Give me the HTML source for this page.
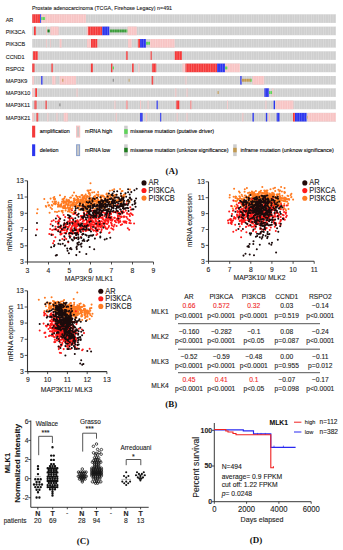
<!DOCTYPE html>
<html><head><meta charset="utf-8"><style>
html,body{margin:0;padding:0;background:#fff;width:343px;height:550px;overflow:hidden}
svg{display:block}
text{font-family:"Liberation Sans", sans-serif}
</style></head><body>
<svg width="343" height="550" viewBox="0 0 343 550">
<defs><pattern id="gp" patternUnits="userSpaceOnUse" width="2.1" height="10"><rect width="2.1" height="10" fill="#cfcfcf"/></pattern><pattern id="st" patternUnits="userSpaceOnUse" x="32.6" width="2.4" height="10"><rect width="0.6" height="10" fill="#fff" fill-opacity="0.3"/></pattern></defs>
<text stroke="#222" stroke-width="0.1" x="32.0" y="9.9" transform="matrix(1 0 0 1.12 0 -1.19)" font-size="5.37" fill="#222">Prostate adenocarcinoma (TCGA, Firehose Legacy) n=491</text>
<text stroke="#222" stroke-width="0.1" x="5.7" y="21.8" transform="matrix(1 0 0 1.12 0 -2.62)" font-size="5.5" fill="#222">AR</text>
<rect x="32.2" y="14.3" width="303.8" height="8.6" fill="url(#gp)"/>
<rect x="32.2" y="14.3" width="7.8" height="8.6" fill="#f43a3a"/>
<rect x="40" y="14.3" width="1.2" height="8.6" fill="#2b35ee"/>
<rect x="41.2" y="14.3" width="4.1" height="8.6" fill="#f7c4c4"/>
<rect x="41.2" y="17.1" width="4.1" height="2.9" fill="#5fd35a"/>
<rect x="45.3" y="14.3" width="40.7" height="8.6" fill="#f7c4c4"/>
<rect x="32.2" y="14.3" width="303.8" height="8.6" fill="url(#st)"/>
<text stroke="#222" stroke-width="0.1" x="5.7" y="34.1" transform="matrix(1 0 0 1.12 0 -4.09)" font-size="5.5" fill="#222">PIK3CA</text>
<rect x="32.2" y="26.6" width="303.8" height="8.6" fill="url(#gp)"/>
<rect x="34" y="26.6" width="2" height="8.6" fill="#f43a3a"/>
<rect x="46" y="26.6" width="1" height="8.6" fill="#f7c4c4"/>
<rect x="47.3" y="29.5" width="2.5" height="2.9" fill="#1e7d1e"/>
<rect x="50.4" y="26.6" width="8.2" height="8.6" fill="#f7c4c4"/>
<rect x="86.7" y="26.6" width="1.3" height="8.6" fill="#f7c4c4"/>
<rect x="88" y="26.6" width="14.1" height="8.6" fill="#f43a3a"/>
<rect x="102.1" y="26.6" width="7.2" height="8.6" fill="#2b35ee"/>
<rect x="109.8" y="29.5" width="17" height="2.9" fill="#3b9c3a"/>
<rect x="126.6" y="29.5" width="1" height="2.9" fill="#5fd35a"/>
<rect x="127.6" y="26.6" width="9.2" height="8.6" fill="#f7c4c4"/>
<rect x="32.2" y="26.6" width="303.8" height="8.6" fill="url(#st)"/>
<text stroke="#222" stroke-width="0.1" x="5.7" y="46.3" transform="matrix(1 0 0 1.12 0 -5.56)" font-size="5.5" fill="#222">PIK3CB</text>
<rect x="32.2" y="39" width="303.8" height="8.6" fill="url(#gp)"/>
<rect x="46.3" y="39" width="0.7" height="8.6" fill="#f7c4c4"/>
<rect x="50.4" y="39" width="0.6" height="8.6" fill="#f7c4c4"/>
<rect x="59.6" y="39" width="2" height="8.6" fill="#f7c4c4"/>
<rect x="87" y="39" width="4" height="8.6" fill="#f7c4c4"/>
<rect x="91" y="39" width="6.3" height="8.6" fill="#f43a3a"/>
<rect x="128" y="39" width="3.7" height="8.6" fill="#f7c4c4"/>
<rect x="137.9" y="39" width="2.1" height="8.6" fill="#f43a3a"/>
<rect x="140" y="39" width="6" height="8.6" fill="#2b35ee"/>
<rect x="146" y="41.8" width="4" height="2.9" fill="#5fd35a"/>
<rect x="150" y="39" width="24.7" height="8.6" fill="#f7c4c4"/>
<rect x="32.2" y="39" width="303.8" height="8.6" fill="url(#st)"/>
<text stroke="#222" stroke-width="0.1" x="5.7" y="58.6" transform="matrix(1 0 0 1.12 0 -7.03)" font-size="5.5" fill="#222">CCND1</text>
<rect x="32.2" y="51.3" width="303.8" height="8.6" fill="url(#gp)"/>
<rect x="33" y="51.3" width="4.8" height="8.6" fill="#f43a3a"/>
<rect x="126" y="51.3" width="1.6" height="8.6" fill="#f43a3a"/>
<rect x="150.5" y="51.3" width="1.2" height="8.6" fill="#f43a3a"/>
<rect x="174.7" y="51.3" width="7.3" height="8.6" fill="#f43a3a"/>
<rect x="32.2" y="51.3" width="303.8" height="8.6" fill="url(#st)"/>
<text stroke="#222" stroke-width="0.1" x="5.7" y="70.8" transform="matrix(1 0 0 1.12 0 -8.50)" font-size="5.5" fill="#222">RSPO2</text>
<rect x="32.2" y="63.6" width="303.8" height="8.6" fill="url(#gp)"/>
<rect x="32.2" y="63.6" width="2.3" height="8.6" fill="#f43a3a"/>
<rect x="51.4" y="63.6" width="1.5" height="8.6" fill="#f43a3a"/>
<rect x="90.8" y="63.6" width="2.1" height="8.6" fill="#f43a3a"/>
<rect x="111" y="63.6" width="1.5" height="8.6" fill="#f43a3a"/>
<rect x="112.5" y="66.5" width="1.5" height="2.9" fill="#5fd35a"/>
<rect x="132.1" y="63.6" width="1.7" height="8.6" fill="#f43a3a"/>
<rect x="138.3" y="63.6" width="1.2" height="8.6" fill="#f7c4c4"/>
<rect x="152.1" y="63.6" width="4.1" height="8.6" fill="#f43a3a"/>
<rect x="182.4" y="63.6" width="3.1" height="8.6" fill="#f7c4c4"/>
<rect x="185.5" y="63.6" width="31.5" height="8.6" fill="#f43a3a"/>
<rect x="217" y="63.6" width="8" height="8.6" fill="#2b35ee"/>
<rect x="225" y="63.6" width="15" height="8.6" fill="#f7c4c4"/>
<rect x="225" y="66.5" width="2.5" height="2.9" fill="#5fd35a"/>
<rect x="32.2" y="63.6" width="303.8" height="8.6" fill="url(#st)"/>
<text stroke="#222" stroke-width="0.1" x="5.7" y="83" transform="matrix(1 0 0 1.12 0 -9.96)" font-size="5.5" fill="#222">MAP3K9</text>
<rect x="32.2" y="76" width="303.8" height="8.6" fill="url(#gp)"/>
<rect x="32.2" y="76" width="1.8" height="8.6" fill="#f7c4c4"/>
<rect x="41.2" y="76" width="1.4" height="8.6" fill="#2b35ee"/>
<rect x="52" y="76" width="3.5" height="8.6" fill="#f7c4c4"/>
<rect x="59.6" y="76" width="16.4" height="8.6" fill="#f7c4c4"/>
<rect x="62.3" y="78.8" width="1" height="2.9" fill="#c29a50"/>
<rect x="112.7" y="78.8" width="1" height="2.9" fill="#7a7a7a"/>
<rect x="128.6" y="78.8" width="1" height="2.9" fill="#c29a50"/>
<rect x="151.7" y="76" width="1.5" height="8.6" fill="#f43a3a"/>
<rect x="185.5" y="76" width="1" height="8.6" fill="#f7c4c4"/>
<rect x="240.3" y="76" width="1.4" height="8.6" fill="#2b35ee"/>
<rect x="241.7" y="78.8" width="9.3" height="2.9" fill="#c29a50"/>
<rect x="250.5" y="78.8" width="1.5" height="2.9" fill="#5fd35a"/>
<rect x="252.5" y="76" width="11.7" height="8.6" fill="#f7c4c4"/>
<rect x="32.2" y="76" width="303.8" height="8.6" fill="url(#st)"/>
<text stroke="#222" stroke-width="0.1" x="5.7" y="95.3" transform="matrix(1 0 0 1.12 0 -11.44)" font-size="5.5" fill="#222">MAP3K10</text>
<rect x="32.2" y="88.3" width="303.8" height="8.6" fill="url(#gp)"/>
<rect x="32.2" y="88.3" width="1.8" height="8.6" fill="#f7c4c4"/>
<rect x="35" y="88.3" width="2" height="8.6" fill="#f43a3a"/>
<rect x="76.5" y="88.3" width="1" height="8.6" fill="#f7c4c4"/>
<rect x="175.3" y="88.3" width="1" height="8.6" fill="#f7c4c4"/>
<rect x="186.5" y="88.3" width="1" height="8.6" fill="#f7c4c4"/>
<rect x="217.5" y="91.1" width="1.2" height="2.9" fill="#c29a50"/>
<rect x="264.4" y="88.3" width="4.5" height="8.6" fill="#2b35ee"/>
<rect x="268.9" y="91.1" width="3.4" height="2.9" fill="#5fd35a"/>
<rect x="272.3" y="88.3" width="1" height="8.6" fill="#f7c4c4"/>
<rect x="32.2" y="88.3" width="303.8" height="8.6" fill="url(#st)"/>
<text stroke="#222" stroke-width="0.1" x="5.7" y="107.5" transform="matrix(1 0 0 1.12 0 -12.90)" font-size="5.5" fill="#222">MAP3K11</text>
<rect x="32.2" y="100.6" width="303.8" height="8.6" fill="url(#gp)"/>
<rect x="34.5" y="100.6" width="2" height="8.6" fill="#f43a3a"/>
<rect x="45.5" y="100.6" width="1.2" height="8.6" fill="#f43a3a"/>
<rect x="59.2" y="103.4" width="1.2" height="2.9" fill="#7a7a7a"/>
<rect x="114.4" y="100.6" width="1" height="8.6" fill="#f7c4c4"/>
<rect x="126" y="100.6" width="1.6" height="8.6" fill="#f29090"/>
<rect x="140" y="100.6" width="1" height="8.6" fill="#f7c4c4"/>
<rect x="147.6" y="100.6" width="1" height="8.6" fill="#f7c4c4"/>
<rect x="156.6" y="100.6" width="1.3" height="8.6" fill="#2b35ee"/>
<rect x="176.3" y="100.6" width="3.1" height="8.6" fill="#f43a3a"/>
<rect x="190.2" y="100.6" width="1.4" height="8.6" fill="#f29090"/>
<rect x="227" y="100.6" width="1" height="8.6" fill="#f7c4c4"/>
<rect x="265.4" y="100.6" width="1" height="8.6" fill="#f7c4c4"/>
<rect x="273.6" y="100.6" width="1.4" height="8.6" fill="#2b35ee"/>
<rect x="275.6" y="100.6" width="17.8" height="8.6" fill="#f7c4c4"/>
<rect x="32.2" y="100.6" width="303.8" height="8.6" fill="url(#st)"/>
<text stroke="#222" stroke-width="0.1" x="5.7" y="119.8" transform="matrix(1 0 0 1.12 0 -14.38)" font-size="5.5" fill="#222">MAP3K21</text>
<rect x="32.2" y="112.9" width="303.8" height="8.6" fill="url(#gp)"/>
<rect x="32.2" y="112.9" width="1.8" height="8.6" fill="#f7c4c4"/>
<rect x="36.5" y="112.9" width="1.7" height="8.6" fill="#f43a3a"/>
<rect x="47.3" y="112.9" width="1" height="8.6" fill="#f7c4c4"/>
<rect x="56.5" y="112.9" width="1" height="8.6" fill="#f7c4c4"/>
<rect x="63.7" y="112.9" width="4.1" height="8.6" fill="#f7c4c4"/>
<rect x="115.8" y="112.9" width="1" height="8.6" fill="#f7c4c4"/>
<rect x="140" y="112.9" width="2.6" height="8.6" fill="#2b35ee"/>
<rect x="146" y="112.9" width="1" height="8.6" fill="#f7c4c4"/>
<rect x="160" y="112.9" width="1.2" height="8.6" fill="#2b35ee"/>
<rect x="176.7" y="112.9" width="1" height="8.6" fill="#f7c4c4"/>
<rect x="186.5" y="112.9" width="1" height="8.6" fill="#f7c4c4"/>
<rect x="242.3" y="112.9" width="1" height="8.6" fill="#f7c4c4"/>
<rect x="252.5" y="112.9" width="1.5" height="8.6" fill="#2b35ee"/>
<rect x="265.8" y="112.9" width="1.4" height="8.6" fill="#2b35ee"/>
<rect x="268.9" y="112.9" width="1.1" height="8.6" fill="#f7c4c4"/>
<rect x="276.7" y="112.9" width="2.8" height="8.6" fill="#2b35ee"/>
<rect x="293" y="112.9" width="2" height="8.6" fill="#f43a3a"/>
<rect x="295" y="112.9" width="11.7" height="8.6" fill="#2b35ee"/>
<rect x="306.7" y="115.8" width="1" height="2.9" fill="#c29a50"/>
<rect x="307.7" y="112.9" width="28.3" height="8.6" fill="#f7c4c4"/>
<rect x="32.2" y="112.9" width="303.8" height="8.6" fill="url(#st)"/>
<rect x="32.1" y="125.7" width="3.1" height="11.8" fill="#f43a3a"/>
<text stroke="#000" stroke-width="0.1" x="39.7" y="133.3" transform="matrix(1 0 0 1.12 0 -16.00)" font-size="5.4" fill="#000">amplification</text>
<rect x="32.1" y="144.3" width="3.1" height="11.8" fill="#2b35ee"/>
<text stroke="#000" stroke-width="0.1" x="39.7" y="151.9" transform="matrix(1 0 0 1.12 0 -18.23)" font-size="5.4" fill="#000">deletion</text>
<rect x="76.6" y="126.2" width="3" height="10.8" fill="#c8c8c8" stroke="#f7c4c4" stroke-width="1.2"/>
<text stroke="#000" stroke-width="0.1" x="85" y="133.3" transform="matrix(1 0 0 1.12 0 -16.00)" font-size="5.4" fill="#000">mRNA high</text>
<rect x="76.6" y="144.8" width="3" height="10.8" fill="#c8c8c8" stroke="#8aa0cc" stroke-width="1"/>
<text stroke="#000" stroke-width="0.1" x="85" y="151.9" transform="matrix(1 0 0 1.12 0 -18.23)" font-size="5.4" fill="#000">mRNA low</text>
<rect x="124.2" y="125.7" width="3.5" height="11.8" fill="#cdcdcd"/>
<rect x="124.2" y="129.2" width="3.5" height="4.7" fill="#5fd35a"/>
<text stroke="#000" stroke-width="0.1" x="130.3" y="133.3" transform="matrix(1 0 0 1.12 0 -16.00)" font-size="5.4" fill="#000">missense mutation (putative driver)</text>
<rect x="124.2" y="144.3" width="3.5" height="11.8" fill="#cdcdcd"/>
<rect x="124.2" y="147.8" width="3.5" height="4.5" fill="#1e7d1e"/>
<text stroke="#000" stroke-width="0.1" x="130.3" y="151.9" transform="matrix(1 0 0 1.12 0 -18.23)" font-size="5.4" fill="#000">missense mutation (unknow significance)</text>
<rect x="233.2" y="144.3" width="3.5" height="11.8" fill="#cdcdcd"/>
<rect x="233.2" y="147.8" width="3.5" height="4.5" fill="#c29a50"/>
<text stroke="#000" stroke-width="0.1" x="240.4" y="151.9" transform="matrix(1 0 0 1.12 0 -18.23)" font-size="5.4" fill="#000">inframe mutation (unknow significance)</text>
<text x="171.7" y="173.6" style='font-family:"Liberation Serif", serif' font-weight="bold" font-size="9" text-anchor="middle" fill="#111">(A)</text>
<text x="171.3" y="406.6" style='font-family:"Liberation Serif", serif' font-weight="bold" font-size="9" text-anchor="middle" fill="#111">(B)</text>
<text x="83.1" y="543.6" style='font-family:"Liberation Serif", serif' font-weight="bold" font-size="9" text-anchor="middle" fill="#111">(C)</text>
<text x="256" y="543.2" style='font-family:"Liberation Serif", serif' font-weight="bold" font-size="9" text-anchor="middle" fill="#111">(D)</text>
<path d="M27.5 180.8V262H153.5" fill="none" stroke="#333" stroke-width="1.1"/>
<path d="M24.7 180.8H27.5" stroke="#222" stroke-width="0.8"/>
<text stroke="#222" stroke-width="0.1" x="23.9" y="183.2" transform="matrix(1 0 0 1.12 0 -21.98)" font-size="6.8" text-anchor="end" fill="#222">13</text>
<path d="M24.7 197H27.5" stroke="#222" stroke-width="0.8"/>
<text stroke="#222" stroke-width="0.1" x="23.9" y="199.4" transform="matrix(1 0 0 1.12 0 -23.93)" font-size="6.8" text-anchor="end" fill="#222">11</text>
<path d="M24.7 213.3H27.5" stroke="#222" stroke-width="0.8"/>
<text stroke="#222" stroke-width="0.1" x="23.9" y="215.7" transform="matrix(1 0 0 1.12 0 -25.88)" font-size="6.8" text-anchor="end" fill="#222">9</text>
<path d="M24.7 229.5H27.5" stroke="#222" stroke-width="0.8"/>
<text stroke="#222" stroke-width="0.1" x="23.9" y="231.9" transform="matrix(1 0 0 1.12 0 -27.83)" font-size="6.8" text-anchor="end" fill="#222">7</text>
<path d="M24.7 245.8H27.5" stroke="#222" stroke-width="0.8"/>
<text stroke="#222" stroke-width="0.1" x="23.9" y="248.2" transform="matrix(1 0 0 1.12 0 -29.78)" font-size="6.8" text-anchor="end" fill="#222">5</text>
<path d="M24.7 262H27.5" stroke="#222" stroke-width="0.8"/>
<text stroke="#222" stroke-width="0.1" x="23.9" y="264.4" transform="matrix(1 0 0 1.12 0 -31.73)" font-size="6.8" text-anchor="end" fill="#222">3</text>
<path d="M27.5 262V264.5" stroke="#222" stroke-width="0.8"/>
<text stroke="#222" stroke-width="0.1" x="27.5" y="272.9" transform="matrix(1 0 0 1.12 0 -32.75)" font-size="6.8" text-anchor="middle" fill="#222">3</text>
<path d="M48.5 262V264.5" stroke="#222" stroke-width="0.8"/>
<text stroke="#222" stroke-width="0.1" x="48.5" y="272.9" transform="matrix(1 0 0 1.12 0 -32.75)" font-size="6.8" text-anchor="middle" fill="#222">4</text>
<path d="M69.5 262V264.5" stroke="#222" stroke-width="0.8"/>
<text stroke="#222" stroke-width="0.1" x="69.5" y="272.9" transform="matrix(1 0 0 1.12 0 -32.75)" font-size="6.8" text-anchor="middle" fill="#222">5</text>
<path d="M90.5 262V264.5" stroke="#222" stroke-width="0.8"/>
<text stroke="#222" stroke-width="0.1" x="90.5" y="272.9" transform="matrix(1 0 0 1.12 0 -32.75)" font-size="6.8" text-anchor="middle" fill="#222">6</text>
<path d="M111.5 262V264.5" stroke="#222" stroke-width="0.8"/>
<text stroke="#222" stroke-width="0.1" x="111.5" y="272.9" transform="matrix(1 0 0 1.12 0 -32.75)" font-size="6.8" text-anchor="middle" fill="#222">7</text>
<path d="M132.5 262V264.5" stroke="#222" stroke-width="0.8"/>
<text stroke="#222" stroke-width="0.1" x="132.5" y="272.9" transform="matrix(1 0 0 1.12 0 -32.75)" font-size="6.8" text-anchor="middle" fill="#222">8</text>
<path d="M153.5 262V264.5" stroke="#222" stroke-width="0.8"/>
<text stroke="#222" stroke-width="0.1" x="153.5" y="272.9" transform="matrix(1 0 0 1.12 0 -32.75)" font-size="6.8" text-anchor="middle" fill="#222">9</text>
<text stroke="#222" stroke-width="0.1" x="89" y="281.3" transform="matrix(1 0 0 1.12 0 -33.76)" font-size="6.8" text-anchor="middle" fill="#222">MAP3K9/ MLK1</text>
<text stroke="#222" stroke-width="0.1" transform="translate(11.6,225.6) rotate(-90)" font-size="6.4" text-anchor="middle" fill="#222">mRNA expression</text>
<path d="M90.5 205.9h0M96.8 194.8h0M84.7 198.3h0M71.8 204.9h0M81.0 206.2h0M69.7 211.7h0M91.8 203.2h0M118.6 199.2h0M80.2 202.8h0M77.5 203.0h0M100.8 205.6h0M98.0 201.2h0M92.7 201.5h0M71.0 197.4h0M89.9 193.2h0M105.1 200.9h0M62.3 207.3h0M80.9 202.6h0M50.6 207.6h0M63.4 207.1h0M51.8 205.1h0M85.6 206.6h0M63.9 201.1h0M96.2 201.5h0M93.8 200.1h0M86.6 202.7h0M37.6 209.2h0M79.2 206.7h0M89.5 202.7h0M92.9 203.8h0M58.4 203.2h0M80.5 202.4h0M70.0 209.3h0M73.5 202.7h0M112.8 205.6h0M73.5 205.7h0M89.8 202.9h0M109.1 209.2h0M78.2 202.1h0M88.2 201.0h0M92.8 202.0h0M91.8 203.3h0M64.8 205.4h0M92.1 205.7h0M119.0 200.3h0M58.0 206.7h0M108.5 199.6h0M93.0 206.7h0M77.0 201.6h0M70.3 202.6h0M106.5 200.8h0M65.3 205.6h0M92.1 198.9h0M102.6 207.9h0M86.5 199.8h0M104.8 199.2h0M89.1 200.4h0M104.5 198.6h0M120.7 201.9h0M76.3 203.9h0M94.8 198.3h0M80.8 200.4h0M93.2 200.4h0M65.6 210.4h0M78.3 200.1h0M86.4 196.6h0M109.4 195.4h0M114.5 198.4h0M62.7 210.8h0M73.8 198.7h0M104.1 201.0h0M48.7 205.8h0M80.8 200.6h0M88.5 208.3h0M116.9 205.1h0M105.0 203.1h0M83.6 196.4h0M82.8 203.8h0M85.2 200.7h0M122.5 191.0h0M81.5 195.2h0M84.1 202.5h0M97.9 202.0h0M88.0 207.4h0M86.4 205.0h0M67.1 201.6h0M90.3 199.8h0M81.2 201.8h0M115.0 195.0h0M104.2 203.8h0M90.0 201.8h0M104.5 197.0h0M83.4 199.5h0M112.6 194.8h0M90.4 199.7h0M102.8 201.8h0M63.4 202.2h0M97.8 205.4h0M55.0 211.8h0M47.8 202.5h0M84.1 202.3h0M71.6 201.7h0M93.9 208.8h0M61.3 205.6h0M73.0 205.7h0M77.4 206.5h0M94.8 211.2h0M100.9 202.1h0M86.8 197.8h0M86.2 200.2h0M105.3 202.9h0M101.4 200.6h0M68.8 200.0h0M88.8 201.3h0M91.2 202.0h0M68.4 201.0h0M96.0 198.0h0M72.5 195.4h0M110.9 194.7h0M94.5 199.8h0M92.4 200.0h0M78.1 199.0h0M88.0 204.1h0M48.5 205.3h0M66.7 199.5h0M98.1 192.1h0M45.8 206.0h0M108.3 200.2h0M53.8 203.7h0M106.4 194.2h0M72.7 203.2h0M106.9 193.6h0M93.2 205.6h0M58.2 205.1h0M116.7 200.2h0M120.8 195.4h0M89.1 197.0h0M84.7 208.7h0M87.1 205.9h0M70.0 201.7h0M113.6 202.5h0M79.1 209.3h0M89.4 197.0h0M73.8 200.7h0M77.4 200.4h0M63.7 205.9h0M116.9 194.7h0M87.3 202.9h0M110.8 194.9h0M90.8 205.6h0M75.9 206.6h0M83.6 201.2h0M78.7 205.6h0M90.7 198.5h0M82.6 201.0h0M84.2 206.2h0M61.5 203.6h0M73.6 204.5h0M125.2 194.5h0M76.4 205.5h0M68.4 205.4h0M97.6 195.5h0M120.1 189.0h0M60.0 195.2h0M86.1 201.6h0M77.2 201.7h0M53.5 197.8h0M105.9 200.7h0M90.0 205.9h0M92.0 200.9h0M74.7 200.8h0M100.1 204.4h0M79.2 209.8h0M87.5 208.2h0M67.2 200.5h0M65.0 207.1h0M118.5 199.8h0M79.9 201.5h0M96.6 198.2h0M89.8 203.1h0M81.2 200.1h0M79.8 206.4h0M103.7 202.0h0M84.2 206.6h0M87.3 196.7h0M91.0 201.6h0M115.2 202.7h0M104.8 201.9h0M98.5 201.8h0M78.7 199.4h0M61.5 211.1h0M110.4 204.4h0M110.8 201.5h0M87.5 190.4h0M101.9 196.3h0M106.9 200.6h0M108.0 196.8h0M109.8 190.7h0M80.9 203.4h0M122.3 200.4h0M64.3 198.3h0M108.6 197.8h0M100.9 197.6h0M108.8 202.2h0M130.0 189.6h0M121.7 191.2h0M66.5 201.0h0M55.0 201.5h0M107.7 209.1h0M69.2 200.5h0M90.2 202.4h0M108.1 198.1h0M56.0 201.4h0M46.2 206.8h0M95.9 208.6h0M91.4 199.8h0M85.3 205.3h0M91.3 202.9h0M72.4 205.7h0M58.7 205.7h0M87.0 212.1h0M70.1 197.8h0M56.0 203.3h0M101.1 195.6h0M89.2 192.8h0M99.0 200.7h0M69.7 211.3h0M76.7 206.7h0M69.5 208.7h0M71.9 205.3h0M94.6 200.8h0M74.1 211.8h0M98.0 199.3h0M97.6 207.6h0M83.0 200.8h0M61.3 204.5h0M109.1 201.3h0M88.6 202.0h0M90.2 203.9h0M60.1 206.8h0M80.8 209.8h0M106.1 200.3h0M88.8 193.4h0M92.2 192.5h0M84.4 196.1h0M114.7 196.3h0M90.0 204.6h0M44.3 199.0h0M76.0 203.0h0M49.2 205.3h0M119.7 200.3h0M79.4 202.0h0M118.5 201.1h0M91.5 201.8h0M65.9 208.4h0M70.7 204.9h0M114.2 189.3h0M93.8 201.5h0M91.5 202.5h0M89.4 199.2h0M91.3 198.3h0M107.4 205.0h0M102.1 201.4h0M95.0 197.0h0M68.6 202.2h0M101.2 200.0h0M76.1 195.8h0M113.5 202.6h0M63.8 203.4h0M87.6 204.1h0M90.3 194.9h0M62.7 212.6h0M126.7 201.4h0M121.2 201.3h0M80.8 199.4h0M106.7 197.4h0M98.5 194.6h0M58.9 211.2h0M95.8 197.7h0M89.2 202.9h0M92.2 204.3h0M67.9 201.0h0M84.8 206.1h0M86.8 211.1h0M115.4 201.0h0M97.5 207.6h0M90.4 204.4h0M122.6 197.1h0M78.8 201.1h0M82.3 195.1h0M52.3 205.6h0M123.5 205.6h0M110.8 203.2h0M109.8 204.0h0M104.5 205.7h0M92.8 199.4h0M95.0 204.0h0M85.2 210.8h0M86.2 198.8h0M91.6 201.9h0M122.2 197.2h0M102.2 200.0h0M89.3 198.8h0M78.3 202.4h0M77.2 197.1h0M124.2 196.7h0M101.1 198.8h0M91.9 199.6h0M83.2 208.6h0M67.2 204.2h0M89.1 202.8h0M108.8 199.0h0M82.3 208.3h0M85.7 194.6h0M85.9 201.4h0M92.8 206.7h0M57.0 212.0h0M85.6 203.2h0M72.6 203.4h0M109.1 203.1h0M74.3 202.5h0M102.6 203.3h0M122.5 196.3h0M83.9 205.3h0M77.9 202.8h0M94.5 196.8h0M90.5 190.0h0M69.6 207.8h0M100.2 202.8h0M101.6 204.3h0M85.1 198.5h0M86.2 207.0h0M68.6 205.5h0M97.2 201.1h0M64.3 208.1h0M67.3 207.8h0M117.4 201.3h0M71.5 212.5h0M113.2 206.0h0M122.5 200.6h0M95.9 200.4h0M102.1 201.3h0M67.9 211.4h0M86.4 203.9h0M78.0 199.0h0M62.1 201.4h0M91.4 201.8h0M121.6 202.8h0M110.7 197.0h0M70.7 205.8h0M72.5 208.3h0M79.9 206.0h0M96.6 194.5h0M86.2 200.9h0M95.0 195.9h0M96.7 203.1h0M84.2 197.8h0M89.7 204.3h0M94.8 201.8h0M88.7 190.6h0M101.1 197.2h0M129.8 200.4h0M102.9 200.8h0M91.7 199.9h0M55.1 199.1h0M98.6 203.0h0M49.6 212.8h0M60.9 205.3h0M108.4 199.9h0M105.3 199.8h0M87.4 195.9h0M54.6 203.1h0M82.7 198.5h0M76.2 207.6h0M103.9 196.5h0M112.3 190.3h0M95.1 197.7h0M74.1 201.8h0M65.9 202.9h0M89.3 193.6h0M86.8 206.0h0M66.3 204.1h0M92.9 199.2h0M66.3 200.2h0M113.9 201.5h0M112.8 198.2h0M113.3 200.8h0M80.5 201.8h0M101.3 201.2h0M87.7 206.8h0M82.3 202.3h0M83.4 198.2h0M63.2 208.1h0M60.2 205.2h0M107.2 197.1h0M86.5 206.6h0M95.0 200.3h0M111.5 204.5h0M54.1 199.5h0M74.0 192.6h0M94.2 192.2h0M98.7 201.8h0M82.6 198.9h0M112.1 199.1h0M94.9 200.7h0M65.0 196.8h0M71.0 209.1h0M107.4 195.4h0M100.2 200.9h0M50.6 198.6h0M118.8 198.3h0M103.1 203.4h0M118.7 197.9h0M82.4 198.9h0M84.3 201.9h0M66.8 201.3h0M67.9 205.8h0M86.8 211.3h0M123.8 194.7h0M76.9 199.5h0M93.9 200.6h0M55.4 204.2h0M82.5 197.6h0M111.2 201.8h0M64.2 206.9h0M113.0 200.4h0M97.6 195.6h0M68.6 209.6h0M80.0 197.1h0M80.9 205.2h0M89.5 206.5h0M79.2 196.8h0M73.1 203.4h0M84.1 207.9h0M68.9 204.9h0M63.4 199.7h0M89.5 196.3h0M109.0 201.8h0M58.4 202.4h0M90.6 198.3h0M76.9 205.5h0M70.0 201.7h0M108.4 200.1h0M79.6 204.8h0M122.0 201.0h0M74.1 202.6h0M98.6 200.7h0M85.7 204.4h0M74.7 204.8h0M102.8 195.5h0M87.2 200.8h0M103.2 196.5h0M89.5 196.2h0M67.7 200.8h0M88.4 191.5h0M91.6 205.1h0M110.6 196.2h0M71.5 204.5h0M89.7 193.3h0M54.3 197.0h0M104.2 209.1h0M67.8 207.8h0M52.6 201.8h0M89.3 198.1h0M113.7 196.2h0M58.5 204.5h0M67.7 201.4h0M74.9 199.9h0M66.8 203.9h0M98.5 196.2h0M73.5 213.0h0M75.3 200.0h0M102.7 205.1h0M74.6 198.6h0M99.6 201.8h0M70.1 207.2h0M65.0 202.0h0M52.0 208.9h0M129.6 202.3h0M83.8 209.1h0M95.6 201.2h0M89.8 199.3h0M93.9 196.7h0M91.5 202.1h0M84.5 197.3h0M68.7 203.3h0M57.8 204.7h0M69.2 200.8h0M62.5 199.2h0M106.2 201.7h0M107.7 201.1h0M37.0 213.3h0M90.5 183.2h0" stroke="#ff7b22" stroke-width="2.05" stroke-linecap="round" fill="none"/>
<path d="M71.7 226.9h0M114.2 217.8h0M82.7 221.4h0M101.7 229.3h0M73.3 213.9h0M99.5 214.3h0M100.2 216.8h0M82.3 226.4h0M89.3 223.5h0M99.7 217.9h0M130.7 213.3h0M112.7 229.0h0M76.9 220.7h0M83.1 206.6h0M101.2 232.0h0M92.9 216.4h0M92.6 220.2h0M85.2 224.4h0M51.7 221.3h0M86.6 230.6h0M114.2 217.7h0M99.7 212.4h0M75.5 226.6h0M75.8 227.9h0M86.7 222.8h0M97.6 224.2h0M60.0 218.8h0M53.0 234.8h0M68.0 221.5h0M76.3 232.8h0M70.2 222.3h0M126.6 217.1h0M68.3 242.2h0M105.9 220.2h0M61.3 234.3h0M98.1 224.1h0M84.5 214.6h0M90.2 229.6h0M104.1 226.8h0M130.3 207.2h0M95.8 221.2h0M94.3 212.9h0M70.1 224.4h0M104.4 225.7h0M86.1 224.0h0M109.9 212.0h0M90.6 217.1h0M129.9 215.9h0M110.1 219.1h0M85.0 224.4h0M111.0 222.7h0M83.8 212.4h0M74.1 225.6h0M85.7 230.4h0M61.1 230.8h0M94.2 217.8h0M90.8 218.9h0M116.8 219.0h0M67.1 230.9h0M72.3 225.8h0M82.6 234.2h0M113.7 226.6h0M73.4 221.0h0M76.3 228.1h0M111.1 217.0h0M110.6 212.0h0M83.3 220.1h0M66.9 226.8h0M57.4 215.8h0M76.1 221.3h0M87.8 225.4h0M108.1 215.3h0M77.7 222.6h0M102.2 225.9h0M132.7 215.0h0M117.4 219.1h0M66.2 238.9h0M110.7 220.3h0M117.1 219.9h0M75.1 228.1h0M70.5 236.2h0M89.1 225.2h0M56.2 229.0h0M124.0 216.4h0M72.7 232.7h0M67.1 223.1h0M85.6 231.0h0M86.5 224.8h0M95.2 214.1h0M97.5 225.7h0M86.8 226.5h0M116.6 211.8h0M71.6 228.4h0M91.5 224.4h0M75.8 224.0h0M94.5 215.8h0M96.4 235.0h0M71.4 231.1h0M77.4 231.1h0M109.0 226.1h0M99.2 226.4h0M76.6 230.3h0M69.4 224.7h0M82.8 229.5h0M59.3 227.5h0M98.2 219.1h0M82.1 228.6h0M108.8 218.8h0M96.4 212.0h0M87.0 221.5h0M79.6 228.5h0M86.9 223.8h0M79.4 230.2h0M108.0 218.1h0M82.8 219.0h0M81.8 229.2h0M65.0 228.5h0M90.5 216.2h0M71.8 229.0h0M87.6 222.2h0M114.5 224.7h0M99.6 226.1h0M102.7 223.7h0M99.4 208.5h0M92.9 224.8h0M88.7 226.2h0M84.8 227.1h0M108.3 220.7h0M67.6 222.9h0M121.1 216.4h0M92.3 210.5h0M75.0 224.2h0M80.8 216.0h0M76.6 223.6h0M95.1 218.5h0M75.7 233.8h0M116.7 219.0h0M74.3 226.0h0M107.9 221.2h0M75.4 238.0h0M82.8 219.0h0M90.7 225.0h0M114.9 221.1h0M105.8 221.6h0M62.1 229.1h0M74.7 223.2h0M130.8 223.2h0M98.6 226.8h0M91.6 220.9h0M114.8 217.7h0M87.2 225.6h0M120.1 221.0h0M94.6 227.0h0M99.4 221.6h0M105.2 213.3h0M78.0 231.2h0M68.2 217.8h0M92.7 217.5h0M70.7 228.9h0M90.2 218.3h0M93.7 230.8h0M64.7 237.4h0M72.8 233.4h0M88.9 225.5h0M87.9 225.2h0M101.2 224.0h0M114.6 218.0h0M80.7 237.0h0M73.4 222.9h0M55.4 237.2h0M71.1 230.0h0M103.4 223.0h0M92.6 229.2h0M69.2 234.5h0M83.3 229.9h0M92.2 222.6h0M102.7 217.2h0M78.5 221.6h0M86.0 229.4h0M51.5 234.2h0M66.2 232.4h0M127.2 213.8h0M127.8 228.2h0M84.1 216.7h0M96.4 224.6h0M83.3 228.6h0M73.7 223.7h0M90.2 216.8h0M91.4 220.6h0M89.7 216.8h0M50.1 229.0h0M88.3 216.0h0M72.7 218.6h0M79.5 225.3h0M96.6 213.3h0M105.7 219.2h0M111.3 218.7h0M80.6 229.9h0M111.9 220.8h0M117.4 213.6h0M116.6 225.9h0M122.2 213.5h0M88.3 221.1h0M87.7 221.7h0M109.7 232.4h0M61.4 228.5h0M96.2 218.0h0M79.9 229.1h0M83.4 223.5h0M53.1 243.2h0M71.9 222.1h0M91.1 226.6h0M111.1 214.1h0M113.4 229.6h0M89.8 218.9h0M87.4 224.7h0M73.2 221.1h0M100.4 226.5h0M86.1 227.2h0M104.9 207.2h0M130.2 220.7h0M90.8 226.9h0M58.5 230.0h0M72.6 231.9h0M59.4 221.3h0M65.2 217.1h0M120.3 221.7h0M96.5 231.8h0M58.0 221.6h0M106.0 213.6h0M119.3 213.0h0M83.6 217.2h0M76.6 230.3h0M84.1 224.9h0M97.8 229.6h0M105.7 228.5h0M117.6 212.3h0M118.3 221.9h0M117.7 204.7h0M121.6 217.0h0M106.1 223.8h0M57.8 223.8h0M88.7 212.6h0M98.5 218.6h0M83.1 231.2h0M111.6 217.0h0M83.6 216.0h0M71.1 229.1h0M123.4 221.6h0M106.2 214.1h0M96.4 221.0h0M112.0 225.5h0M115.0 220.8h0M99.1 225.7h0M102.7 218.9h0M76.7 224.6h0M81.5 217.6h0M69.8 222.2h0M95.9 231.0h0M117.8 215.7h0M80.9 219.2h0M66.5 224.3h0M131.0 209.7h0M81.6 227.6h0M64.4 232.9h0M96.8 216.3h0M100.9 227.2h0M76.0 237.9h0M109.0 213.6h0M80.8 228.7h0M71.2 227.9h0M95.5 230.1h0M108.5 227.4h0M77.6 231.8h0M98.8 223.5h0M89.5 220.8h0M109.1 233.0h0M75.9 220.9h0M122.1 224.2h0M90.4 229.1h0M88.8 219.1h0M107.5 220.3h0M111.3 228.2h0M119.5 207.0h0M98.8 226.4h0M78.3 223.5h0M79.7 223.5h0M102.8 212.4h0M104.4 223.1h0M122.4 211.4h0M100.8 225.3h0M114.9 212.0h0M125.0 221.3h0M95.2 224.1h0M58.8 217.2h0M65.5 225.3h0M59.8 227.5h0M126.6 203.4h0M72.9 223.8h0M118.7 222.7h0M104.5 216.1h0M129.4 222.9h0M113.7 212.2h0M89.3 216.0h0M87.1 226.7h0M93.4 226.0h0M95.4 220.9h0M79.8 224.6h0M90.8 228.5h0M127.0 213.1h0M54.0 241.1h0M97.2 224.2h0M71.6 228.5h0M95.7 223.5h0M110.1 217.6h0M90.3 230.0h0M108.6 216.2h0M56.5 229.8h0M116.0 222.2h0M78.3 232.9h0M105.3 227.1h0M95.6 219.8h0M124.4 222.5h0M74.9 225.1h0M96.4 215.6h0M125.8 210.6h0M97.9 212.4h0M97.2 223.4h0M60.4 234.4h0M123.1 211.2h0M131.4 213.9h0M92.2 215.9h0M86.7 223.4h0M55.8 221.8h0M111.0 214.3h0M86.1 219.4h0M107.4 216.9h0M119.4 215.4h0M103.5 219.2h0M69.8 225.1h0M121.0 211.7h0M64.3 230.3h0M86.9 213.3h0M97.7 222.2h0M111.0 213.5h0M100.7 221.5h0M100.1 222.6h0M74.8 213.7h0M63.1 229.4h0M92.9 229.8h0M75.9 229.5h0M62.7 229.5h0M63.6 214.9h0M80.7 223.3h0M50.7 224.3h0M61.8 233.6h0M55.5 226.8h0M95.6 218.0h0M100.5 210.5h0M107.4 223.9h0M58.5 224.8h0M76.6 223.5h0M111.7 225.1h0M86.8 223.6h0M84.3 225.4h0M129.2 229.7h0M84.1 220.4h0M66.1 223.9h0M62.5 230.2h0M99.0 229.2h0M98.3 212.8h0M61.3 226.3h0M69.8 220.5h0M103.3 212.3h0M104.3 223.4h0M77.4 220.3h0M105.3 221.6h0M104.2 220.8h0M52.2 230.0h0M84.7 223.8h0M100.7 214.5h0M78.9 224.1h0M77.6 225.9h0M85.3 225.3h0M108.1 217.7h0M126.4 221.8h0M64.6 230.3h0M117.5 218.4h0M66.7 230.3h0M112.7 219.6h0M118.8 221.5h0M113.2 207.1h0M94.8 214.3h0M65.9 224.4h0M105.4 220.5h0M75.8 212.6h0M129.0 214.2h0M100.8 221.5h0M107.2 218.1h0M131.6 213.9h0M71.4 217.9h0M123.9 217.1h0M126.6 204.2h0M125.8 221.8h0M91.1 218.6h0M65.0 233.1h0M87.6 212.7h0M108.4 221.6h0M54.0 229.5h0M93.6 216.9h0M69.7 219.1h0M87.9 229.7h0M89.1 225.1h0M134.1 223.4h0M120.2 216.8h0M90.6 223.4h0M118.2 220.0h0M74.4 229.6h0M84.1 226.2h0M111.6 223.5h0M64.2 224.3h0M85.4 214.8h0M62.4 239.0h0M94.1 222.8h0M127.5 218.8h0M75.0 222.6h0M96.5 227.3h0M71.8 226.9h0M66.2 233.1h0M64.3 223.3h0M123.6 216.5h0M119.8 218.7h0M102.2 218.6h0M75.8 226.8h0M107.1 229.0h0M84.2 220.4h0M109.2 217.9h0M98.0 222.4h0M97.7 215.8h0M104.9 213.2h0M78.8 231.2h0M82.6 228.7h0M53.6 220.2h0M81.8 216.0h0M60.2 232.4h0M88.4 230.1h0M70.4 230.0h0M93.8 225.1h0M101.5 230.1h0M60.2 227.9h0M73.6 233.2h0M70.7 233.3h0M108.0 214.4h0M129.2 220.1h0M110.3 219.8h0M83.8 220.3h0M123.9 212.2h0M58.2 230.4h0M124.6 216.6h0M77.1 230.0h0M76.8 215.0h0M100.8 217.2h0M126.3 223.0h0M68.8 226.6h0M95.3 217.8h0M86.8 220.6h0M93.8 211.5h0M58.8 220.3h0M76.5 228.4h0M101.9 221.3h0M96.5 229.3h0M118.0 216.6h0M93.3 221.4h0M72.0 210.2h0M75.8 224.8h0M97.3 233.9h0M49.3 233.9h0M63.9 226.8h0M120.8 224.9h0M70.8 231.3h0M103.3 222.7h0M90.2 220.9h0M68.5 227.6h0M83.9 229.2h0M80.2 220.0h0M80.8 227.6h0M108.2 222.6h0M105.9 228.2h0M78.8 229.4h0M71.5 222.3h0M97.8 231.0h0M37.0 229.5h0" stroke="#ff1a1a" stroke-width="2.05" stroke-linecap="round" fill="none"/>
<path d="M91.7 235.5h0M60.1 226.8h0M93.1 217.5h0M96.5 210.9h0M75.3 218.2h0M113.7 203.1h0M92.9 204.9h0M90.6 217.6h0M116.6 210.5h0M96.2 223.6h0M101.4 207.2h0M106.2 200.3h0M61.9 229.3h0M82.9 204.6h0M100.3 215.9h0M134.4 190.2h0M82.2 229.4h0M100.0 208.1h0M136.7 188.7h0M106.6 215.1h0M97.9 205.9h0M121.6 200.2h0M100.4 232.6h0M92.5 208.0h0M78.4 224.3h0M89.6 214.2h0M128.1 189.3h0M109.7 199.0h0M116.4 194.8h0M124.1 200.7h0M112.9 199.4h0M78.2 234.8h0M120.6 199.6h0M113.6 208.3h0M118.7 207.6h0M105.2 199.8h0M103.2 204.2h0M69.9 233.0h0M109.7 206.4h0M71.4 233.2h0M102.5 205.7h0M82.9 209.7h0M69.3 217.6h0M114.1 200.7h0M93.9 212.0h0M70.4 216.3h0M109.6 204.4h0M93.3 213.9h0M123.9 203.4h0M100.5 197.2h0M87.4 215.5h0M64.3 236.3h0M90.4 214.6h0M102.4 211.4h0M52.7 225.8h0M92.4 200.2h0M134.6 201.6h0M124.8 204.7h0M90.8 221.2h0M92.5 215.4h0M99.2 221.0h0M106.7 238.7h0M109.0 211.3h0M106.8 209.9h0M82.5 205.7h0M122.3 204.6h0M128.1 199.7h0M124.3 208.4h0M96.0 213.1h0M83.4 228.9h0M106.3 209.8h0M125.4 208.6h0M91.5 215.5h0M86.2 219.4h0M130.2 198.4h0M60.4 244.2h0M89.3 210.3h0M119.0 201.5h0M90.8 210.7h0M109.9 213.2h0M105.5 200.6h0M81.3 238.0h0M100.3 237.5h0M113.4 203.8h0M88.4 240.0h0M122.5 212.8h0M101.2 205.1h0M107.2 213.2h0M88.6 211.5h0M98.5 213.5h0M83.8 226.7h0M96.2 217.3h0M102.5 200.8h0M120.9 193.6h0M104.2 210.2h0M120.4 206.3h0M68.9 253.3h0M105.0 200.6h0M54.0 246.3h0M111.2 209.6h0M105.8 210.0h0M75.9 233.6h0M98.7 213.0h0M89.5 198.4h0M81.3 237.5h0M92.3 235.7h0M86.1 208.7h0M104.9 208.0h0M55.4 229.3h0M72.6 230.3h0M69.1 215.5h0M77.9 207.9h0M95.9 216.5h0M93.2 207.0h0M115.4 203.3h0M110.7 211.1h0M115.4 212.2h0M80.0 203.5h0M82.1 225.7h0M104.4 200.4h0M103.1 201.7h0M120.6 200.8h0M85.8 217.6h0M63.6 227.8h0M79.3 225.5h0M62.8 243.8h0M110.7 198.9h0M67.4 224.0h0M80.1 226.1h0M60.2 218.8h0M74.9 233.2h0M90.5 208.5h0M99.1 212.1h0M58.2 231.3h0M136.1 198.5h0M55.9 218.5h0M80.8 224.4h0M80.3 231.2h0M65.9 233.4h0M74.4 228.2h0M95.6 211.6h0M93.1 198.2h0M59.8 240.3h0M87.8 217.4h0M132.2 209.2h0M107.7 199.7h0M104.0 223.7h0M58.6 223.0h0M75.2 206.4h0M73.0 230.9h0M83.3 208.7h0M104.7 239.5h0M134.7 203.9h0M99.0 202.7h0M123.6 201.9h0M63.7 224.9h0M111.4 203.4h0M85.5 234.7h0M132.4 204.8h0M99.3 204.7h0M122.0 206.3h0M101.1 212.2h0M107.4 206.6h0M92.8 213.1h0M119.0 206.6h0M83.4 234.0h0M78.3 239.2h0M117.0 207.5h0M104.1 207.7h0M96.5 210.1h0M76.8 249.1h0M78.3 237.3h0M72.4 233.7h0M105.7 205.6h0M106.6 201.7h0M86.7 235.4h0M120.8 209.8h0M68.2 241.5h0M134.9 200.8h0M84.2 216.1h0M89.1 235.7h0M77.6 244.0h0M113.8 206.3h0M108.2 204.8h0M64.7 223.4h0M102.4 215.0h0M97.0 197.7h0M78.9 242.3h0M94.2 249.2h0M83.1 233.8h0M74.8 230.3h0M69.7 223.2h0M87.6 206.3h0M98.9 202.1h0M96.2 215.2h0M100.6 203.0h0M99.3 208.6h0M89.7 246.9h0M116.9 202.0h0M60.3 232.0h0M123.9 208.9h0M97.1 230.2h0M117.5 197.5h0M113.5 205.4h0M81.4 246.6h0M101.2 200.2h0M87.0 208.5h0M91.1 203.6h0M78.5 216.8h0M72.5 223.6h0M120.4 213.9h0M79.6 205.2h0M82.0 217.0h0M88.7 207.0h0M114.8 201.2h0M110.4 217.8h0M51.5 234.9h0M101.1 213.6h0M96.6 214.2h0M100.5 202.6h0M99.5 210.1h0M65.2 245.4h0M97.1 204.7h0M82.3 208.6h0M131.5 199.6h0M91.0 231.4h0M94.4 211.8h0M99.8 202.1h0M94.9 238.6h0M101.8 208.0h0M115.4 197.4h0M105.3 214.7h0M81.5 243.6h0M64.3 240.0h0M106.8 200.6h0M90.5 207.3h0M83.4 210.2h0M77.5 243.0h0M83.9 216.8h0M64.5 223.4h0M97.7 212.6h0M84.3 215.0h0M94.8 198.9h0M70.7 248.1h0M86.2 226.9h0M102.7 210.5h0M123.4 206.2h0M74.1 237.3h0M76.4 238.1h0M58.1 227.0h0M94.1 206.0h0M73.2 219.8h0M96.4 212.2h0M110.5 211.6h0M82.3 234.6h0M122.9 208.2h0M78.7 238.3h0M129.1 201.6h0M107.6 196.4h0M123.4 198.4h0M98.1 212.6h0M94.3 204.9h0M96.1 206.3h0M113.0 200.3h0M70.0 237.7h0M126.2 196.7h0M74.2 238.8h0M106.7 212.1h0M123.8 208.0h0M76.8 246.4h0M121.6 203.6h0M54.5 244.9h0M88.7 237.2h0M99.6 224.2h0M103.3 227.6h0M84.9 206.7h0M95.4 213.2h0M80.9 232.0h0M109.5 215.0h0M75.3 210.4h0M70.0 248.8h0M103.0 202.2h0M65.4 227.1h0M116.1 208.8h0M84.4 240.9h0M122.0 198.3h0M108.9 204.1h0M88.2 202.8h0M89.9 211.6h0M108.9 193.6h0M100.8 206.2h0M100.8 204.2h0M112.6 211.5h0M125.5 204.4h0M118.2 203.4h0M77.0 233.4h0M84.8 226.1h0M100.2 202.9h0M81.1 209.1h0M112.5 203.2h0M79.6 251.9h0M84.1 213.4h0M94.4 204.3h0M89.0 213.0h0M88.4 206.2h0M102.2 206.6h0M111.3 198.2h0M67.1 222.5h0M135.4 203.1h0M120.0 199.4h0M94.0 215.4h0M101.0 207.0h0M94.7 210.4h0M78.6 213.8h0M76.0 230.0h0M94.8 215.8h0M106.3 206.7h0M87.1 209.2h0M98.1 209.8h0M90.2 210.1h0M69.1 233.2h0M98.9 217.1h0M93.1 213.3h0M120.2 209.3h0M75.4 221.4h0M93.0 227.0h0M110.4 204.4h0M86.8 215.0h0M112.8 195.7h0M94.6 216.4h0M106.7 201.3h0M116.5 197.3h0M87.8 225.2h0M78.1 244.8h0M107.6 202.2h0M118.3 218.5h0M64.4 220.2h0M121.3 196.3h0M97.1 208.6h0M99.8 205.9h0M118.7 197.6h0M103.7 204.4h0M110.3 237.7h0M111.4 206.3h0M82.6 240.8h0M128.5 210.9h0M67.9 214.9h0M107.6 202.4h0M71.5 249.3h0M105.1 203.6h0M64.8 245.8h0M82.9 208.9h0M101.3 200.7h0M94.9 206.1h0M106.4 204.4h0M96.4 217.2h0M99.9 214.4h0M107.7 205.1h0M103.2 206.0h0M93.7 216.2h0M128.3 203.4h0M67.6 229.0h0M117.2 191.2h0M72.9 240.4h0M112.5 207.7h0M114.0 191.6h0M106.9 201.3h0M92.6 205.7h0M93.2 235.0h0M107.9 200.0h0M125.5 193.3h0M129.7 194.5h0M105.8 206.5h0M77.2 232.9h0M109.2 201.9h0M127.3 200.8h0M123.5 197.4h0M83.0 217.3h0M90.7 235.4h0M112.6 193.5h0M109.5 211.6h0M117.9 211.3h0M135.6 206.8h0M123.0 204.8h0M86.9 225.8h0M128.1 208.3h0M114.5 197.7h0M51.2 247.2h0M86.5 228.2h0M99.3 207.5h0M115.4 205.5h0M58.4 243.7h0M67.6 250.7h0M111.8 201.6h0M101.3 210.4h0M119.4 199.0h0M60.8 225.4h0M119.0 213.7h0M88.8 206.0h0M129.7 197.8h0M71.8 239.5h0M89.6 201.4h0M87.4 211.7h0M99.5 215.5h0M115.0 200.2h0M96.0 210.5h0M111.6 194.9h0M102.5 203.7h0M95.5 228.2h0M105.0 206.8h0M94.1 215.8h0M77.6 214.8h0M88.7 213.8h0M100.8 215.2h0M80.2 244.5h0M126.0 207.9h0M102.4 203.7h0M101.8 200.3h0M103.3 209.9h0M116.1 206.3h0M67.2 248.4h0M121.2 204.7h0M81.9 223.4h0M89.5 222.0h0M77.4 243.7h0M92.5 201.4h0M128.1 192.3h0M76.5 247.5h0M72.0 239.7h0M76.3 255.1h0M108.0 209.6h0M87.2 240.9h0M86.7 202.0h0M72.1 233.7h0M80.5 209.4h0M130.0 197.6h0M83.0 218.1h0M117.8 206.0h0M120.2 205.3h0M75.0 233.0h0M85.9 229.8h0M101.6 207.5h0M111.9 207.6h0M109.0 209.0h0M93.2 212.6h0M109.0 217.2h0M93.6 210.9h0M114.7 201.9h0M133.4 209.3h0M123.3 199.2h0M98.7 202.1h0M83.8 239.6h0M106.2 217.1h0M104.0 206.4h0M95.8 206.5h0M93.9 211.8h0M82.3 209.8h0M72.3 223.1h0M120.3 204.1h0M83.5 206.2h0M93.6 217.5h0M131.3 192.1h0M84.4 229.4h0M82.0 223.8h0M105.3 198.7h0M89.5 230.1h0M108.0 211.4h0M106.4 213.4h0M112.6 202.1h0M127.5 207.7h0M113.4 210.7h0M75.1 213.1h0M121.8 211.7h0M111.3 198.6h0M117.0 207.8h0M90.4 206.0h0M76.1 235.2h0M69.5 236.3h0M127.7 204.9h0M101.5 206.3h0M100.5 209.8h0M75.4 230.1h0M88.5 229.2h0M89.6 201.9h0M125.8 204.6h0M100.3 236.5h0M90.9 211.3h0M85.5 207.4h0M83.4 206.0h0M79.8 229.8h0M75.8 208.5h0M37.0 223.0h0M35.9 235.2h0M55.8 255.5h0M56.9 255.1h0M86.3 253.9h0" stroke="#1b0b0b" stroke-width="2.05" stroke-linecap="round" fill="none"/>
<circle cx="144" cy="182.9" r="2.55" fill="#220a0a"/>
<text stroke="#222" stroke-width="0.1" x="148.5" y="185.5" transform="matrix(1 0 0 1.12 0 -22.26)" font-size="7.4" fill="#222">AR</text>
<circle cx="144" cy="190.5" r="2.55" fill="#ff1a1a"/>
<text stroke="#222" stroke-width="0.1" x="148.5" y="193.1" transform="matrix(1 0 0 1.12 0 -23.17)" font-size="7.4" fill="#222">PI3KCA</text>
<circle cx="144" cy="198.1" r="2.55" fill="#ff7b22"/>
<text stroke="#222" stroke-width="0.1" x="148.5" y="200.7" transform="matrix(1 0 0 1.12 0 -24.08)" font-size="7.4" fill="#222">PI3KCB</text>
<path d="M208.5 181.8V261.3H314.2" fill="none" stroke="#333" stroke-width="1.1"/>
<path d="M205.7 181.8H208.5" stroke="#222" stroke-width="0.8"/>
<text stroke="#222" stroke-width="0.1" x="204.9" y="184.2" transform="matrix(1 0 0 1.12 0 -22.10)" font-size="6.8" text-anchor="end" fill="#222">13</text>
<path d="M205.7 197.7H208.5" stroke="#222" stroke-width="0.8"/>
<text stroke="#222" stroke-width="0.1" x="204.9" y="200.1" transform="matrix(1 0 0 1.12 0 -24.01)" font-size="6.8" text-anchor="end" fill="#222">11</text>
<path d="M205.7 213.6H208.5" stroke="#222" stroke-width="0.8"/>
<text stroke="#222" stroke-width="0.1" x="204.9" y="216" transform="matrix(1 0 0 1.12 0 -25.92)" font-size="6.8" text-anchor="end" fill="#222">9</text>
<path d="M205.7 229.5H208.5" stroke="#222" stroke-width="0.8"/>
<text stroke="#222" stroke-width="0.1" x="204.9" y="231.9" transform="matrix(1 0 0 1.12 0 -27.83)" font-size="6.8" text-anchor="end" fill="#222">7</text>
<path d="M205.7 245.4H208.5" stroke="#222" stroke-width="0.8"/>
<text stroke="#222" stroke-width="0.1" x="204.9" y="247.8" transform="matrix(1 0 0 1.12 0 -29.74)" font-size="6.8" text-anchor="end" fill="#222">5</text>
<path d="M205.7 261.3H208.5" stroke="#222" stroke-width="0.8"/>
<text stroke="#222" stroke-width="0.1" x="204.9" y="263.7" transform="matrix(1 0 0 1.12 0 -31.64)" font-size="6.8" text-anchor="end" fill="#222">3</text>
<path d="M208.5 261.3V263.8" stroke="#222" stroke-width="0.8"/>
<text stroke="#222" stroke-width="0.1" x="208.5" y="272.2" transform="matrix(1 0 0 1.12 0 -32.66)" font-size="6.8" text-anchor="middle" fill="#222">6</text>
<path d="M229.7 261.3V263.8" stroke="#222" stroke-width="0.8"/>
<text stroke="#222" stroke-width="0.1" x="229.7" y="272.2" transform="matrix(1 0 0 1.12 0 -32.66)" font-size="6.8" text-anchor="middle" fill="#222">7</text>
<path d="M250.8 261.3V263.8" stroke="#222" stroke-width="0.8"/>
<text stroke="#222" stroke-width="0.1" x="250.8" y="272.2" transform="matrix(1 0 0 1.12 0 -32.66)" font-size="6.8" text-anchor="middle" fill="#222">8</text>
<path d="M271.9 261.3V263.8" stroke="#222" stroke-width="0.8"/>
<text stroke="#222" stroke-width="0.1" x="271.9" y="272.2" transform="matrix(1 0 0 1.12 0 -32.66)" font-size="6.8" text-anchor="middle" fill="#222">9</text>
<path d="M293.1 261.3V263.8" stroke="#222" stroke-width="0.8"/>
<text stroke="#222" stroke-width="0.1" x="293.1" y="272.2" transform="matrix(1 0 0 1.12 0 -32.66)" font-size="6.8" text-anchor="middle" fill="#222">10</text>
<path d="M314.2 261.3V263.8" stroke="#222" stroke-width="0.8"/>
<text stroke="#222" stroke-width="0.1" x="314.2" y="272.2" transform="matrix(1 0 0 1.12 0 -32.66)" font-size="6.8" text-anchor="middle" fill="#222">11</text>
<text stroke="#222" stroke-width="0.1" x="259.6" y="280.1" transform="matrix(1 0 0 1.12 0 -33.61)" font-size="6.8" text-anchor="middle" fill="#222">MAP3K10/ MLK2</text>
<text stroke="#222" stroke-width="0.1" transform="translate(192.4,220.2) rotate(-90)" font-size="6.75" text-anchor="middle" fill="#222">mRNA expression</text>
<path d="M269.9 193.9h0M281.0 200.2h0M252.3 198.2h0M263.9 193.8h0M273.6 193.3h0M265.7 201.7h0M248.0 193.0h0M270.2 197.5h0M266.0 199.3h0M270.7 197.2h0M280.1 206.1h0M278.5 203.0h0M270.2 199.8h0M268.8 196.4h0M249.4 201.1h0M262.7 199.9h0M267.6 194.7h0M259.0 192.6h0M265.9 195.6h0M253.2 193.2h0M285.6 201.2h0M274.0 200.8h0M259.2 197.8h0M270.1 200.7h0M261.3 201.7h0M281.9 191.4h0M270.5 200.2h0M265.6 203.9h0M261.5 197.0h0M266.3 190.5h0M250.8 198.9h0M273.8 193.4h0M254.7 201.4h0M271.9 201.6h0M266.3 202.6h0M279.6 200.0h0M264.3 190.5h0M278.6 204.8h0M251.9 191.5h0M272.9 204.1h0M261.5 200.4h0M267.2 195.3h0M265.5 196.3h0M277.4 197.9h0M236.8 207.2h0M269.0 197.6h0M244.0 204.2h0M281.1 187.0h0M237.4 200.3h0M250.7 198.4h0M241.5 204.8h0M287.1 201.6h0M246.8 205.4h0M266.1 194.6h0M257.2 200.5h0M239.8 196.6h0M259.9 202.6h0M273.7 201.7h0M262.0 193.1h0M277.5 203.9h0M259.6 207.9h0M264.6 197.4h0M259.3 204.7h0M269.3 201.4h0M290.7 194.9h0M269.5 203.2h0M267.2 195.1h0M256.0 202.5h0M254.2 192.2h0M284.7 193.0h0M249.3 201.5h0M252.0 200.3h0M263.2 203.3h0M258.7 198.3h0M291.4 193.8h0M232.0 206.2h0M269.5 194.9h0M274.3 205.6h0M249.1 203.4h0M255.7 207.8h0M270.5 189.2h0M286.9 199.0h0M251.9 198.1h0M242.8 202.5h0M277.9 194.2h0M285.5 209.3h0M259.9 199.2h0M234.1 188.8h0M284.5 201.1h0M261.8 199.2h0M280.0 196.1h0M263.9 203.2h0M259.4 199.2h0M258.3 194.7h0M284.8 198.4h0M284.3 197.5h0M235.2 201.0h0M251.7 197.8h0M289.0 199.0h0M259.5 192.3h0M245.8 195.8h0M264.6 200.5h0M263.1 211.0h0M263.2 195.9h0M258.0 195.7h0M260.3 203.7h0M258.3 208.8h0M269.1 204.7h0M253.4 194.9h0M260.6 204.4h0M262.6 201.5h0M282.5 198.2h0M269.7 193.4h0M263.0 199.4h0M271.9 199.8h0M270.1 201.9h0M279.5 191.5h0M271.5 194.2h0M289.2 199.7h0M283.0 206.0h0M264.0 203.1h0M258.8 196.5h0M276.7 202.7h0M271.6 195.0h0M263.2 197.6h0M244.2 197.9h0M239.4 196.2h0M269.3 196.9h0M275.1 203.4h0M275.6 200.8h0M246.9 188.1h0M278.8 205.1h0M257.2 201.6h0M269.9 194.2h0M270.3 200.0h0M253.5 203.2h0M256.4 205.6h0M236.0 196.7h0M251.9 194.4h0M239.8 192.6h0M270.6 199.0h0M265.4 194.3h0M277.1 204.2h0M269.4 198.5h0M255.8 202.5h0M269.3 198.5h0M259.2 195.7h0M272.9 194.2h0M268.9 204.0h0M251.0 193.2h0M264.6 201.6h0M265.3 204.2h0M260.3 200.1h0M276.9 206.3h0M288.1 199.3h0M259.5 197.9h0M259.7 200.2h0M233.6 196.7h0M262.8 200.8h0M258.6 199.3h0M234.8 206.2h0M268.5 199.1h0M272.7 203.3h0M254.5 201.4h0M259.4 199.7h0M251.3 198.4h0M275.0 207.1h0M243.7 206.7h0M260.2 200.7h0M291.4 197.0h0M265.3 197.6h0M271.0 195.0h0M262.5 193.1h0M248.4 196.9h0M264.1 199.4h0M270.1 204.2h0M250.5 203.8h0M269.2 201.5h0M281.7 198.0h0M279.3 198.2h0M242.8 199.3h0M251.1 200.0h0M242.4 196.3h0M279.3 198.3h0M272.9 197.9h0M274.2 197.8h0M252.5 201.9h0M248.5 204.2h0M265.6 196.9h0M265.9 197.3h0M252.8 200.3h0M266.5 201.3h0M273.4 188.4h0M267.7 202.9h0M250.3 200.3h0M235.5 198.0h0M261.0 204.8h0M266.8 198.7h0M261.0 190.7h0M258.7 194.8h0M255.0 196.3h0M274.4 196.5h0M263.8 198.8h0M266.2 194.7h0M251.2 200.0h0M256.0 201.3h0M266.8 198.8h0M250.7 195.0h0M247.2 197.7h0M260.0 196.1h0M281.1 208.9h0M267.2 193.6h0M284.6 188.1h0M262.7 192.9h0M260.3 200.8h0M245.4 203.3h0M256.6 198.0h0M284.3 204.0h0M269.1 195.8h0M274.6 201.8h0M274.2 194.7h0M264.4 192.8h0M261.7 209.0h0M266.2 197.9h0M273.8 202.6h0M270.8 206.0h0M271.3 202.2h0M266.7 200.3h0M254.0 194.4h0M261.0 206.5h0M251.6 194.3h0M278.4 189.7h0M235.6 196.4h0M261.6 196.7h0M265.3 199.4h0M259.9 204.9h0M248.9 196.7h0M264.3 197.5h0M282.3 195.8h0M262.3 187.0h0M273.0 195.8h0M265.9 197.3h0M259.4 191.8h0M256.3 205.7h0M265.5 204.7h0M257.2 201.1h0M257.8 202.4h0M269.8 196.0h0M270.2 200.8h0M275.2 191.0h0M266.5 192.0h0M244.9 195.6h0M271.9 201.1h0M260.3 196.3h0M260.6 195.4h0M244.2 204.4h0M256.7 197.6h0M254.6 195.9h0M264.0 198.3h0M244.6 191.8h0M265.2 193.5h0M266.3 203.2h0M249.2 198.7h0M256.0 203.3h0M252.8 196.5h0M277.0 203.4h0M229.8 194.9h0M259.8 197.4h0M241.7 194.7h0M258.6 200.0h0M276.2 206.2h0M255.9 190.9h0M266.4 200.1h0M252.9 192.7h0M291.2 197.2h0M277.1 196.1h0M280.0 190.6h0M246.3 197.7h0M249.4 192.6h0M279.4 206.4h0M261.9 195.1h0M261.0 200.4h0M269.1 199.9h0M247.3 199.2h0M275.2 197.6h0M264.8 191.4h0M271.1 208.1h0M255.3 199.1h0M271.6 202.7h0M254.9 193.7h0M277.7 201.3h0M280.1 197.1h0M277.1 201.2h0M271.6 196.1h0M273.3 194.4h0M262.3 201.2h0M276.0 199.1h0M260.8 206.1h0M265.9 197.8h0M260.6 195.2h0M245.4 201.9h0M257.1 193.9h0M273.6 209.2h0M284.0 208.1h0M256.0 205.9h0M252.1 201.6h0M284.5 199.2h0M252.4 199.7h0M293.1 199.6h0M265.2 195.8h0M252.4 201.5h0M278.1 205.3h0M287.8 205.2h0M244.8 189.2h0M286.0 210.5h0M260.7 200.1h0M285.0 192.3h0M259.3 197.0h0M242.9 203.2h0M271.4 199.3h0M277.3 195.2h0M273.0 193.5h0M288.2 203.6h0M274.1 195.7h0M261.3 198.1h0M257.4 194.0h0M260.5 192.7h0M253.1 200.9h0M260.8 206.2h0M229.6 197.4h0M267.0 190.8h0M264.1 196.0h0M253.8 198.2h0M275.0 187.8h0M257.9 204.3h0M272.3 195.0h0M247.7 202.0h0M256.3 199.1h0M238.9 198.9h0M284.3 192.1h0M272.7 203.8h0M248.4 201.8h0M263.7 206.9h0M277.6 197.0h0M271.4 201.5h0M269.8 197.3h0M252.8 204.4h0M255.8 201.0h0M265.9 194.3h0M277.2 200.1h0M253.2 196.3h0M249.1 196.8h0M280.3 201.0h0M251.8 206.7h0M279.4 194.6h0M267.9 198.5h0M276.7 194.6h0M288.5 208.9h0M274.0 207.2h0M275.2 209.5h0M251.9 203.5h0M255.0 194.3h0M273.4 196.6h0M285.6 199.5h0M283.7 198.7h0M277.4 195.7h0M268.8 200.7h0M267.3 197.4h0M278.4 198.6h0M264.8 209.7h0M263.7 201.1h0M250.1 192.8h0M278.2 201.2h0M249.8 200.0h0M271.6 202.2h0M245.0 201.6h0M279.6 193.9h0M250.4 200.6h0M276.1 204.2h0M242.7 206.2h0M258.5 202.0h0M280.7 208.7h0M253.5 208.0h0M265.5 195.5h0M258.0 195.9h0M232.8 208.4h0M268.8 195.2h0M270.5 197.1h0M249.3 203.0h0M272.4 195.8h0M253.6 207.0h0M250.8 205.0h0M264.6 206.2h0M255.2 204.6h0M251.0 195.1h0M243.2 205.7h0M274.7 204.8h0M278.1 203.8h0M237.3 198.4h0M240.7 200.9h0M272.3 195.2h0M257.9 202.7h0M269.8 205.4h0M280.2 201.7h0M259.4 199.1h0M249.9 203.7h0M240.1 198.0h0M267.4 190.6h0M251.8 202.1h0M268.9 199.1h0M267.7 192.9h0M245.5 202.4h0M288.2 203.4h0M279.4 204.6h0M276.2 197.5h0M248.3 196.9h0M258.9 200.1h0M257.0 199.2h0M258.8 193.3h0M249.1 195.2h0M270.5 206.1h0M267.7 199.4h0M269.6 198.9h0M257.6 196.0h0M282.3 200.5h0M267.1 202.5h0M250.6 201.6h0M255.7 207.9h0M263.8 199.5h0M277.8 202.3h0M260.4 197.2h0M261.1 204.3h0M255.4 201.5h0M273.7 204.1h0M258.4 204.5h0M256.3 196.1h0M254.3 201.7h0M272.2 197.3h0M257.2 204.8h0M241.5 199.0h0M273.1 207.5h0M254.9 201.7h0M269.5 201.9h0M269.7 196.7h0M281.1 198.6h0M278.9 200.3h0M256.6 195.5h0M262.3 198.6h0M246.8 196.9h0M287.6 195.8h0M270.6 199.8h0M283.7 200.9h0M260.2 197.9h0M236.4 201.5h0M285.6 197.7h0M265.8 194.2h0M266.4 195.4h0M265.3 201.3h0M273.4 205.6h0M271.9 199.8h0M242.7 200.1h0M279.5 194.2h0M257.3 201.3h0M258.1 200.5h0M288.3 196.0h0M277.2 201.8h0M259.9 200.3h0M239.0 191.4h0M266.8 192.4h0M272.0 196.5h0M263.4 198.2h0M247.4 204.1h0M253.7 196.9h0M247.3 199.2h0M267.5 198.5h0M275.8 202.0h0M278.6 199.6h0M254.5 200.4h0M267.8 198.0h0M272.2 192.7h0M257.5 197.8h0M262.5 207.4h0M241.7 204.1h0M267.4 207.1h0M276.7 203.3h0M258.6 196.9h0M265.1 197.6h0M241.0 202.4h0M264.2 198.2h0M280.9 203.1h0M245.7 206.3h0" stroke="#ff7b22" stroke-width="2.05" stroke-linecap="round" fill="none"/>
<path d="M245.7 214.2h0M274.5 220.1h0M239.6 221.1h0M272.3 202.4h0M273.3 210.0h0M254.2 206.7h0M255.9 214.9h0M248.8 208.4h0M256.2 209.7h0M264.9 206.6h0M256.6 198.3h0M269.1 216.9h0M271.5 213.4h0M260.9 215.6h0M260.6 233.3h0M255.7 225.3h0M260.9 215.1h0M242.4 210.7h0M261.6 219.4h0M259.1 207.1h0M245.6 206.1h0M283.7 218.2h0M244.2 205.0h0M245.5 202.7h0M260.0 211.9h0M231.9 222.2h0M246.5 204.7h0M237.2 216.4h0M244.2 217.9h0M254.8 214.4h0M260.5 219.1h0M270.5 207.5h0M266.7 209.6h0M271.5 206.5h0M263.9 211.0h0M250.5 220.9h0M270.6 216.3h0M250.3 208.9h0M248.7 218.1h0M275.8 230.9h0M266.4 216.9h0M259.2 219.4h0M266.0 207.0h0M267.6 209.8h0M239.2 215.4h0M255.3 216.8h0M241.5 212.1h0M258.0 209.2h0M247.9 209.7h0M273.7 217.3h0M263.0 212.1h0M246.2 209.2h0M256.2 209.7h0M241.1 237.3h0M257.0 221.6h0M263.4 220.7h0M259.8 216.8h0M232.0 213.9h0M252.2 208.6h0M262.9 210.8h0M260.3 216.1h0M271.1 215.0h0M240.1 202.6h0M263.1 219.6h0M248.2 213.0h0M258.9 204.0h0M261.6 212.7h0M265.1 229.8h0M249.1 212.5h0M258.8 218.0h0M241.6 216.0h0M238.5 207.7h0M263.5 211.8h0M255.7 217.1h0M235.9 208.8h0M245.6 212.1h0M256.7 214.4h0M276.1 213.0h0M269.7 213.4h0M266.5 217.6h0M233.8 218.5h0M255.2 215.0h0M262.5 222.0h0M261.4 224.2h0M261.7 205.9h0M253.4 216.9h0M278.7 215.4h0M275.1 216.2h0M255.2 215.0h0M244.0 215.0h0M282.5 214.7h0M249.4 220.9h0M271.6 208.5h0M280.6 220.1h0M244.4 207.8h0M260.1 228.9h0M252.0 222.8h0M262.9 208.1h0M260.5 216.3h0M281.1 220.0h0M263.9 212.5h0M256.3 222.7h0M270.7 214.6h0M253.0 231.0h0M251.8 218.4h0M284.8 219.8h0M246.0 211.3h0M250.2 208.9h0M257.0 221.3h0M243.0 203.7h0M229.6 219.4h0M269.8 229.9h0M246.4 232.2h0M249.5 204.2h0M251.7 215.8h0M243.9 219.8h0M242.8 220.5h0M258.4 223.0h0M286.8 205.5h0M265.7 215.8h0M265.9 202.4h0M237.3 216.6h0M256.1 232.0h0M241.4 209.1h0M266.2 217.8h0M253.5 216.9h0M256.9 204.0h0M255.3 217.1h0M249.0 206.9h0M237.1 215.2h0M263.8 220.6h0M238.8 211.6h0M241.4 219.5h0M252.6 206.4h0M247.4 208.3h0M259.7 214.7h0M269.2 210.8h0M259.6 211.2h0M258.9 217.2h0M256.7 208.8h0M267.3 216.8h0M233.0 210.8h0M261.1 222.0h0M244.6 214.5h0M240.8 212.2h0M256.5 220.8h0M251.5 218.2h0M263.8 219.0h0M270.4 210.0h0M248.0 220.3h0M255.5 212.0h0M281.2 204.3h0M267.4 212.6h0M274.8 226.7h0M257.7 214.3h0M238.2 207.7h0M242.1 217.2h0M265.4 207.2h0M268.6 210.7h0M247.1 212.1h0M253.0 217.0h0M259.7 218.8h0M234.2 217.0h0M252.0 214.7h0M276.9 211.4h0M284.1 212.1h0M255.0 217.3h0M279.6 214.7h0M249.7 212.3h0M246.1 226.7h0M228.0 220.6h0M268.5 220.8h0M251.7 216.6h0M286.1 217.1h0M260.6 216.9h0M258.8 221.3h0M233.5 210.3h0M275.4 213.1h0M251.8 226.8h0M254.4 215.0h0M228.4 223.1h0M268.2 202.9h0M269.0 218.3h0M248.7 217.9h0M257.6 214.5h0M261.4 216.5h0M268.6 215.5h0M257.7 204.0h0M278.3 213.5h0M253.3 209.1h0M248.7 207.0h0M250.5 222.0h0M265.6 203.0h0M246.2 210.1h0M269.2 208.2h0M259.8 221.2h0M246.0 209.2h0M260.9 212.1h0M230.8 218.9h0M252.8 198.7h0M263.1 211.0h0M265.3 216.8h0M246.6 213.7h0M268.0 208.5h0M280.2 207.0h0M251.0 210.9h0M265.9 206.3h0M236.7 204.5h0M231.6 223.9h0M264.2 218.5h0M257.0 221.8h0M259.0 214.4h0M249.1 204.7h0M252.7 210.4h0M266.8 222.5h0M278.3 217.1h0M253.7 207.7h0M235.5 218.8h0M272.7 215.7h0M264.1 212.9h0M265.1 228.1h0M258.8 209.5h0M286.0 212.6h0M257.5 211.0h0M263.0 222.0h0M233.0 220.5h0M249.1 219.3h0M247.8 213.3h0M256.1 214.5h0M260.9 214.1h0M247.0 202.2h0M278.5 205.7h0M243.0 220.2h0M250.8 219.7h0M259.5 202.8h0M240.6 217.3h0M263.7 205.2h0M264.5 203.6h0M252.8 218.9h0M280.7 217.0h0M257.5 214.5h0M260.1 221.2h0M244.3 222.0h0M235.2 217.9h0M248.5 208.9h0M252.4 218.3h0M250.7 216.5h0M266.3 218.4h0M235.2 224.8h0M242.1 204.4h0M233.3 231.8h0M273.5 219.7h0M249.3 211.0h0M250.0 225.0h0M242.5 210.7h0M267.9 206.1h0M251.3 221.2h0M259.3 213.6h0M230.7 223.0h0M271.4 211.4h0M261.5 214.4h0M263.5 213.5h0M272.2 205.3h0M254.1 211.7h0M254.4 205.4h0M265.6 210.5h0M261.9 223.6h0M253.4 213.2h0M257.1 211.5h0M250.1 225.4h0M265.6 205.5h0M268.4 214.6h0M256.6 212.4h0M280.4 221.5h0M237.0 214.5h0M253.6 212.9h0M278.3 217.4h0M251.2 214.5h0M236.2 230.2h0M274.3 205.3h0M263.5 223.0h0M241.3 230.7h0M266.4 221.9h0M243.5 221.0h0M239.5 211.2h0M254.6 221.6h0M250.4 213.0h0M242.6 221.9h0M251.9 199.3h0M243.8 211.2h0M257.3 201.1h0M256.2 222.3h0M266.0 210.3h0M250.8 221.9h0M239.6 210.9h0M239.8 210.2h0M253.4 226.5h0M276.1 223.2h0M267.3 223.4h0M248.4 225.8h0M268.5 220.3h0M241.8 221.9h0M269.4 225.4h0M251.7 214.4h0M266.3 211.2h0M264.5 224.5h0M253.0 219.1h0M260.7 215.0h0M243.0 216.7h0M255.6 220.1h0M270.3 209.3h0M252.5 209.0h0M265.5 210.2h0M257.7 216.6h0M243.7 200.9h0M270.0 202.6h0M235.5 218.0h0M246.3 216.0h0M261.1 206.6h0M241.2 220.8h0M276.2 212.3h0M270.5 214.8h0M249.3 220.1h0M249.5 216.8h0M239.8 226.4h0M238.7 219.0h0M262.2 229.4h0M264.5 198.8h0M261.0 204.3h0M259.9 206.3h0M249.4 213.0h0M261.1 208.0h0M237.8 206.0h0M256.7 207.9h0M275.3 208.6h0M273.4 221.7h0M250.7 212.1h0M252.3 219.0h0M274.1 223.6h0M279.3 223.3h0M237.5 212.1h0M251.1 207.6h0M259.5 224.9h0M272.1 202.7h0M245.9 204.6h0M264.7 217.9h0M252.7 218.5h0M286.8 215.7h0M262.0 208.1h0M254.9 217.9h0M252.3 223.1h0M270.0 212.7h0M265.2 229.9h0M242.8 214.2h0M259.3 206.9h0M239.5 213.0h0M246.9 209.6h0M240.1 211.7h0M239.7 210.0h0M247.8 214.1h0M244.1 221.1h0M263.3 216.8h0M266.7 215.7h0M253.5 206.2h0M242.3 203.6h0M266.8 212.2h0M230.8 220.6h0M232.0 220.4h0M265.8 216.5h0M264.9 205.3h0M269.0 212.8h0M253.8 215.6h0M240.5 220.7h0M250.1 208.9h0M263.8 213.1h0M246.8 215.6h0M247.6 214.5h0M238.8 203.1h0M241.7 216.3h0M267.3 203.1h0M262.4 206.3h0M241.8 214.8h0M242.8 208.9h0M249.4 216.1h0M263.6 221.1h0M241.7 217.1h0M254.4 221.7h0M229.2 211.5h0M240.6 215.1h0M261.9 211.1h0M268.0 209.3h0M241.8 224.0h0M246.7 213.0h0M266.7 228.1h0M251.6 214.0h0M249.7 221.5h0M263.2 214.4h0M259.1 205.4h0M270.8 227.4h0M266.7 213.8h0M249.2 215.8h0M255.1 228.7h0M255.8 210.6h0M239.3 214.9h0M244.2 218.8h0M269.0 220.4h0M236.4 207.9h0M269.3 218.0h0M260.2 228.1h0M254.8 221.9h0M263.5 217.8h0M262.7 217.9h0M272.0 215.8h0M251.5 222.7h0M253.7 211.3h0M253.5 218.7h0M280.6 224.9h0M268.7 221.0h0M244.8 217.9h0M252.4 209.1h0M247.6 211.7h0M256.8 217.6h0M259.3 215.0h0M285.8 213.7h0M233.4 200.6h0M269.7 219.6h0M262.2 211.8h0M247.7 210.0h0M254.7 222.0h0M250.3 213.8h0M257.3 214.0h0M269.5 218.6h0M237.3 211.1h0M273.4 207.8h0M251.9 207.1h0M275.8 216.6h0M261.9 213.8h0M272.4 198.4h0M263.9 223.1h0M270.5 213.6h0M257.4 208.8h0M246.1 214.1h0M265.2 210.5h0M265.7 214.0h0M283.4 209.8h0M231.2 206.0h0M254.2 216.8h0M270.2 213.8h0M240.8 215.6h0M253.8 218.1h0M283.6 215.3h0M274.7 223.3h0M245.5 209.9h0M274.9 203.0h0M271.8 203.0h0M266.6 206.1h0M261.6 222.1h0M259.8 204.3h0M245.7 220.3h0M250.2 215.6h0M266.1 202.0h0M258.5 222.9h0M280.3 209.2h0M252.5 213.2h0M253.7 216.3h0M252.5 221.5h0M260.3 212.2h0M261.6 218.5h0M257.6 207.7h0M246.3 206.4h0M275.8 225.1h0M248.3 218.8h0M265.8 217.5h0M253.1 223.6h0M241.6 223.2h0M274.8 214.6h0M246.2 216.7h0M246.0 227.0h0M262.3 219.0h0M252.3 211.5h0M266.4 223.8h0M255.6 221.8h0M251.1 203.8h0M284.3 205.8h0M254.0 226.8h0M254.8 224.9h0M243.1 212.5h0M247.4 223.7h0M265.1 217.0h0M264.0 218.4h0M256.9 211.2h0" stroke="#ff1a1a" stroke-width="2.05" stroke-linecap="round" fill="none"/>
<path d="M258.8 208.1h0M244.1 201.6h0M265.0 210.1h0M267.1 210.9h0M258.0 207.2h0M257.2 213.5h0M264.5 209.2h0M271.8 224.8h0M261.8 208.3h0M265.4 205.2h0M259.9 216.6h0M256.7 210.5h0M251.6 202.2h0M262.8 196.1h0M257.5 206.4h0M258.0 209.1h0M269.2 243.6h0M265.0 197.2h0M268.6 206.9h0M245.3 201.8h0M265.6 235.7h0M254.7 204.7h0M252.6 204.3h0M252.2 218.1h0M271.8 222.2h0M268.2 210.5h0M253.5 217.0h0M249.5 198.5h0M260.4 225.6h0M255.9 220.4h0M276.1 252.5h0M246.4 206.8h0M242.9 228.9h0M257.9 224.0h0M260.4 203.4h0M261.6 195.8h0M267.5 220.1h0M280.1 211.9h0M257.1 233.7h0M255.1 209.4h0M243.6 201.9h0M262.6 206.5h0M268.4 210.0h0M257.8 213.5h0M271.6 219.7h0M260.6 211.5h0M274.7 200.7h0M263.5 199.9h0M250.3 210.4h0M254.3 210.7h0M245.7 222.8h0M243.8 210.4h0M262.9 219.0h0M268.6 212.6h0M278.9 208.4h0M259.8 237.2h0M258.1 205.4h0M249.8 209.9h0M269.7 211.2h0M264.0 222.7h0M254.7 206.1h0M266.9 211.4h0M265.7 206.2h0M242.5 214.9h0M267.4 195.5h0M261.6 201.4h0M256.6 202.8h0M256.3 205.6h0M277.0 206.4h0M274.9 222.8h0M277.7 215.9h0M249.4 204.8h0M254.1 212.1h0M268.9 234.2h0M248.8 205.3h0M253.5 208.2h0M243.1 218.4h0M278.0 198.7h0M270.4 210.4h0M264.7 227.8h0M262.4 237.1h0M256.3 204.1h0M256.5 222.3h0M266.2 202.2h0M253.5 241.2h0M272.0 219.3h0M255.6 209.8h0M252.0 207.6h0M272.7 217.5h0M258.9 234.0h0M265.6 217.4h0M256.4 222.4h0M238.9 224.0h0M265.5 222.7h0M247.5 246.5h0M270.6 220.0h0M245.6 208.0h0M242.6 213.6h0M263.2 198.6h0M264.4 201.2h0M261.3 207.7h0M248.8 210.2h0M268.8 207.0h0M246.4 210.7h0M255.9 226.8h0M252.8 212.8h0M256.7 198.4h0M268.4 225.3h0M254.3 219.7h0M265.7 207.9h0M266.9 214.8h0M244.0 205.1h0M249.2 219.5h0M256.7 204.0h0M254.7 212.2h0M263.2 225.4h0M241.9 212.4h0M267.2 205.5h0M267.4 234.0h0M258.7 211.2h0M247.2 223.9h0M260.4 213.2h0M255.2 202.0h0M265.7 209.6h0M259.5 221.4h0M267.2 238.1h0M256.2 202.4h0M274.0 200.8h0M238.4 228.9h0M250.6 225.2h0M265.0 215.2h0M245.9 200.5h0M267.3 223.8h0M248.7 198.9h0M261.2 223.4h0M251.6 210.7h0M256.1 209.1h0M262.0 204.7h0M259.3 197.1h0M256.7 207.2h0M280.8 213.8h0M260.4 201.1h0M251.1 201.7h0M269.1 221.2h0M268.1 214.9h0M272.0 242.7h0M277.3 202.5h0M251.4 202.8h0M270.4 210.9h0M271.2 210.1h0M260.3 213.6h0M262.7 213.0h0M231.7 216.0h0M254.9 198.1h0M277.3 212.5h0M243.3 205.6h0M255.2 204.7h0M263.1 235.1h0M265.8 209.2h0M275.8 224.9h0M243.5 255.6h0M260.7 204.6h0M268.5 211.7h0M247.8 213.4h0M259.9 213.0h0M278.3 231.8h0M272.8 220.1h0M265.5 212.4h0M235.4 211.7h0M259.1 199.7h0M264.0 216.2h0M257.4 198.6h0M259.7 201.7h0M258.0 214.6h0M258.3 203.5h0M251.1 201.5h0M262.6 211.2h0M257.3 206.6h0M257.4 220.5h0M259.5 211.5h0M267.7 201.6h0M262.6 214.0h0M248.9 221.2h0M259.1 213.0h0M264.8 208.9h0M255.9 209.8h0M271.3 244.7h0M267.7 211.0h0M250.9 210.5h0M263.4 209.7h0M279.2 201.6h0M275.2 204.1h0M259.8 212.9h0M268.9 216.1h0M253.9 212.4h0M246.5 206.7h0M265.6 202.9h0M262.7 207.5h0M265.2 228.9h0M260.1 206.6h0M263.4 197.6h0M255.4 208.1h0M264.8 196.7h0M268.2 200.3h0M259.8 244.8h0M268.1 203.4h0M243.5 203.1h0M252.8 201.0h0M274.1 208.8h0M277.1 228.2h0M262.7 202.2h0M259.3 216.3h0M248.2 212.4h0M263.8 202.8h0M267.7 218.3h0M246.2 200.9h0M265.6 198.6h0M265.0 206.9h0M264.5 214.1h0M249.6 244.0h0M265.5 225.3h0M246.1 202.7h0M274.5 212.9h0M261.6 205.6h0M249.2 203.2h0M273.1 196.7h0M271.3 214.9h0M254.1 205.8h0M281.3 205.9h0M250.8 213.0h0M263.3 199.0h0M271.6 198.9h0M238.7 217.6h0M269.8 201.3h0M259.7 203.7h0M260.2 219.6h0M250.1 207.3h0M263.5 229.6h0M249.8 233.3h0M251.1 233.2h0M256.1 197.2h0M248.6 211.6h0M275.3 223.7h0M247.7 216.5h0M253.1 207.0h0M257.3 201.7h0M260.4 219.5h0M267.9 198.6h0M268.1 202.4h0M257.4 202.5h0M256.7 209.8h0M260.7 232.3h0M268.1 206.2h0M267.0 224.4h0M255.4 208.0h0M240.7 206.9h0M280.7 206.6h0M269.4 201.7h0M262.8 225.9h0M263.6 196.3h0M255.4 221.0h0M250.8 210.0h0M257.2 214.5h0M258.2 202.4h0M254.4 218.4h0M246.4 197.2h0M257.3 205.9h0M265.8 212.4h0M255.6 204.1h0M260.5 203.6h0M240.6 200.9h0M258.3 205.5h0M259.2 208.4h0M248.6 197.7h0M243.9 215.1h0M264.2 200.5h0M252.6 210.3h0M265.0 201.5h0M256.3 202.4h0M266.2 220.0h0M257.1 206.0h0M246.0 211.3h0M259.5 210.5h0M257.2 216.8h0M266.6 203.2h0M256.0 212.4h0M256.6 217.4h0M268.5 199.6h0M271.4 203.5h0M267.5 205.0h0M270.2 225.0h0M264.6 206.3h0M267.6 232.0h0M268.7 202.7h0M264.2 207.1h0M260.9 228.6h0M261.7 238.6h0M283.2 219.2h0M260.4 199.3h0M258.1 212.8h0M256.9 209.2h0M260.0 201.7h0M262.6 223.4h0M249.6 212.9h0M241.5 201.8h0M263.1 202.0h0M245.0 211.4h0M262.8 199.2h0M261.7 219.2h0M271.3 205.6h0M276.2 198.0h0M263.8 219.4h0M255.0 199.7h0M249.1 208.3h0M252.8 208.2h0M260.7 201.8h0M240.6 211.6h0M261.0 223.2h0M260.2 223.7h0M266.5 208.3h0M257.1 218.9h0M261.3 200.8h0M253.3 211.4h0M255.9 223.7h0M243.4 202.1h0M261.5 213.0h0M275.1 219.5h0M261.9 214.1h0M263.8 232.0h0M251.0 204.7h0M273.9 200.3h0M253.0 201.9h0M267.9 214.4h0M261.3 209.9h0M251.2 206.8h0M270.1 212.9h0M260.5 233.5h0M262.0 205.6h0M264.6 226.6h0M260.1 217.7h0M256.7 203.2h0M264.8 196.2h0M256.5 211.0h0M260.9 200.6h0M254.0 215.8h0M246.1 204.5h0M253.9 210.2h0M255.6 205.3h0M260.5 201.3h0M271.6 214.9h0M244.2 200.1h0M261.5 225.6h0M239.3 216.7h0M250.4 194.9h0M255.5 215.0h0M238.9 208.7h0M242.6 202.8h0M261.8 210.9h0M261.1 208.5h0M259.2 199.9h0M252.7 204.9h0M280.8 223.7h0M258.8 201.0h0M252.1 222.0h0M276.3 204.2h0M266.2 214.1h0M256.8 197.1h0M271.7 200.4h0M261.8 208.1h0M266.4 199.6h0M262.6 198.5h0M250.5 234.8h0M269.6 219.5h0M261.8 221.4h0M250.7 218.4h0M253.1 206.6h0M269.4 234.0h0M256.8 249.3h0M260.8 203.1h0M266.5 210.3h0M261.5 207.6h0M245.8 211.7h0M266.4 217.8h0M269.2 209.8h0M268.6 210.9h0M275.7 210.0h0M263.8 201.9h0M267.7 236.7h0M275.4 197.2h0M257.6 205.7h0M276.8 207.4h0M276.8 210.8h0M267.8 217.7h0M277.8 196.7h0M268.4 210.9h0M251.9 203.7h0M271.1 212.4h0M263.4 215.2h0M264.3 196.0h0M261.8 202.3h0M273.3 207.2h0M265.6 213.1h0M253.7 217.5h0M264.9 214.8h0M267.3 204.1h0M253.4 212.8h0M256.2 211.2h0M256.7 207.2h0M254.5 222.3h0M263.6 209.1h0M270.0 214.4h0M278.3 218.8h0M271.7 203.6h0M270.0 208.0h0M271.2 203.0h0M273.0 199.8h0M256.7 202.7h0M266.9 199.5h0M263.4 197.9h0M259.1 212.5h0M256.0 214.2h0M255.5 203.6h0M257.8 209.5h0M248.6 246.1h0M265.3 204.5h0M260.1 209.7h0M261.3 205.1h0M263.5 231.8h0M267.2 212.9h0M254.7 201.8h0M259.3 213.8h0M245.0 202.3h0M239.2 207.9h0M241.8 217.3h0M274.9 210.7h0M242.9 204.6h0M264.8 205.7h0M274.4 202.4h0M256.0 208.7h0M275.8 207.1h0M277.9 205.3h0M269.3 208.3h0M282.9 218.5h0M266.2 195.8h0M253.4 198.4h0M265.3 200.2h0M256.1 204.0h0M247.9 218.1h0M248.2 215.6h0M282.4 207.4h0M255.2 214.6h0M260.1 205.6h0M254.1 210.9h0M261.7 231.5h0M258.1 220.3h0M256.5 223.9h0M248.9 247.0h0M247.0 203.0h0M253.3 243.9h0M263.2 201.7h0M280.2 226.3h0M270.5 211.2h0M277.8 239.8h0M265.1 224.9h0M259.6 202.9h0M247.9 215.0h0M260.5 215.4h0M240.1 200.8h0M257.6 211.3h0M276.0 207.7h0M263.6 207.2h0M271.2 205.6h0M256.9 208.4h0M247.4 202.5h0M255.9 236.8h0M256.7 199.8h0M272.0 209.8h0M279.3 207.9h0M253.5 229.6h0M257.1 203.9h0M259.1 206.0h0M257.2 235.9h0M248.7 200.5h0M261.4 209.7h0M264.0 202.6h0M264.2 216.3h0M249.1 213.0h0M259.5 201.7h0M244.0 215.7h0M269.3 209.7h0M250.9 210.7h0M245.5 253.7h0M249.7 254.5h0M254.0 255.3h0" stroke="#1b0b0b" stroke-width="2.05" stroke-linecap="round" fill="none"/>
<circle cx="304.8" cy="182.9" r="2.55" fill="#220a0a"/>
<text stroke="#222" stroke-width="0.1" x="309.3" y="185.5" transform="matrix(1 0 0 1.12 0 -22.26)" font-size="7.4" fill="#222">AR</text>
<circle cx="304.8" cy="190.6" r="2.55" fill="#ff1a1a"/>
<text stroke="#222" stroke-width="0.1" x="309.3" y="193.2" transform="matrix(1 0 0 1.12 0 -23.18)" font-size="7.4" fill="#222">PI3KCA</text>
<circle cx="304.8" cy="198.3" r="2.55" fill="#ff7b22"/>
<text stroke="#222" stroke-width="0.1" x="309.3" y="200.9" transform="matrix(1 0 0 1.12 0 -24.11)" font-size="7.4" fill="#222">PI3KCB</text>
<path d="M27.5 290.8V371.6H106.9" fill="none" stroke="#333" stroke-width="1.1"/>
<path d="M24.7 290.8H27.5" stroke="#222" stroke-width="0.8"/>
<text stroke="#222" stroke-width="0.1" x="23.9" y="293.2" transform="matrix(1 0 0 1.12 0 -35.18)" font-size="6.8" text-anchor="end" fill="#222">13</text>
<path d="M24.7 307H27.5" stroke="#222" stroke-width="0.8"/>
<text stroke="#222" stroke-width="0.1" x="23.9" y="309.4" transform="matrix(1 0 0 1.12 0 -37.13)" font-size="6.8" text-anchor="end" fill="#222">11</text>
<path d="M24.7 323.1H27.5" stroke="#222" stroke-width="0.8"/>
<text stroke="#222" stroke-width="0.1" x="23.9" y="325.5" transform="matrix(1 0 0 1.12 0 -39.06)" font-size="6.8" text-anchor="end" fill="#222">9</text>
<path d="M24.7 339.3H27.5" stroke="#222" stroke-width="0.8"/>
<text stroke="#222" stroke-width="0.1" x="23.9" y="341.7" transform="matrix(1 0 0 1.12 0 -41.00)" font-size="6.8" text-anchor="end" fill="#222">7</text>
<path d="M24.7 355.4H27.5" stroke="#222" stroke-width="0.8"/>
<text stroke="#222" stroke-width="0.1" x="23.9" y="357.8" transform="matrix(1 0 0 1.12 0 -42.94)" font-size="6.8" text-anchor="end" fill="#222">5</text>
<path d="M24.7 371.6H27.5" stroke="#222" stroke-width="0.8"/>
<text stroke="#222" stroke-width="0.1" x="23.9" y="374" transform="matrix(1 0 0 1.12 0 -44.88)" font-size="6.8" text-anchor="end" fill="#222">3</text>
<path d="M27.9 371.6V374.1" stroke="#222" stroke-width="0.8"/>
<text stroke="#222" stroke-width="0.1" x="27.9" y="382.5" transform="matrix(1 0 0 1.12 0 -45.90)" font-size="6.8" text-anchor="middle" fill="#222">9</text>
<path d="M47.6 371.6V374.1" stroke="#222" stroke-width="0.8"/>
<text stroke="#222" stroke-width="0.1" x="47.6" y="382.5" transform="matrix(1 0 0 1.12 0 -45.90)" font-size="6.8" text-anchor="middle" fill="#222">10</text>
<path d="M67.4 371.6V374.1" stroke="#222" stroke-width="0.8"/>
<text stroke="#222" stroke-width="0.1" x="67.4" y="382.5" transform="matrix(1 0 0 1.12 0 -45.90)" font-size="6.8" text-anchor="middle" fill="#222">11</text>
<path d="M87.2 371.6V374.1" stroke="#222" stroke-width="0.8"/>
<text stroke="#222" stroke-width="0.1" x="87.2" y="382.5" transform="matrix(1 0 0 1.12 0 -45.90)" font-size="6.8" text-anchor="middle" fill="#222">12</text>
<path d="M106.9 371.6V374.1" stroke="#222" stroke-width="0.8"/>
<text stroke="#222" stroke-width="0.1" x="106.9" y="382.5" transform="matrix(1 0 0 1.12 0 -45.90)" font-size="6.8" text-anchor="middle" fill="#222">13</text>
<text stroke="#222" stroke-width="0.1" x="66.6" y="391.9" transform="matrix(1 0 0 1.12 0 -47.03)" font-size="6.8" text-anchor="middle" fill="#222">MAP3K11/ MLK3</text>
<text stroke="#222" stroke-width="0.1" transform="translate(13.0,333.3) rotate(-90)" font-size="7.0" text-anchor="middle" fill="#222">mRNA expression</text>
<path d="M67.0 309.7h0M81.2 313.0h0M69.6 309.5h0M69.9 306.6h0M76.0 316.2h0M76.5 317.7h0M54.3 301.6h0M82.2 310.8h0M57.0 302.9h0M70.6 309.5h0M59.4 303.7h0M69.1 312.3h0M87.5 310.6h0M64.2 304.0h0M75.3 307.3h0M68.8 311.8h0M73.0 307.4h0M58.3 311.2h0M57.6 313.9h0M72.1 308.6h0M50.1 302.8h0M58.4 305.8h0M75.6 315.5h0M61.1 306.1h0M57.9 306.3h0M55.4 310.1h0M69.9 319.2h0M64.0 305.9h0M69.9 307.1h0M66.0 308.0h0M89.6 318.9h0M63.2 314.8h0M45.6 303.6h0M69.6 307.3h0M68.2 308.3h0M70.0 311.2h0M49.6 306.3h0M81.3 313.6h0M67.9 311.1h0M67.7 313.1h0M49.9 306.9h0M73.7 312.2h0M67.5 306.5h0M83.8 309.4h0M63.4 312.4h0M53.9 301.7h0M69.7 314.3h0M57.7 307.1h0M73.0 306.7h0M55.7 303.9h0M66.7 317.9h0M65.6 306.1h0M67.8 305.6h0M62.3 304.1h0M58.9 317.0h0M67.5 312.4h0M61.5 309.6h0M70.0 311.9h0M65.1 304.8h0M47.2 309.9h0M67.5 305.5h0M84.2 310.0h0M71.7 315.8h0M75.1 314.5h0M73.5 312.4h0M62.8 309.0h0M52.9 304.6h0M77.5 311.9h0M80.3 308.2h0M74.7 316.6h0M73.1 321.7h0M72.8 311.8h0M67.9 308.3h0M71.4 311.7h0M68.4 313.7h0M72.0 309.0h0M57.4 301.7h0M61.0 309.5h0M74.7 313.5h0M64.3 312.6h0M83.7 304.8h0M69.7 310.4h0M71.5 308.2h0M90.1 308.3h0M76.5 307.1h0M75.9 314.3h0M60.6 305.6h0M55.4 305.4h0M65.8 308.0h0M68.5 306.4h0M59.5 311.0h0M70.1 310.5h0M76.1 312.9h0M75.1 308.1h0M56.4 311.0h0M60.8 307.7h0M68.3 314.0h0M60.8 309.6h0M73.4 312.0h0M87.0 312.8h0M87.0 311.9h0M71.6 311.1h0M80.9 312.4h0M87.0 319.9h0M68.8 306.1h0M71.4 312.7h0M78.0 312.1h0M67.9 313.0h0M62.7 305.7h0M59.8 312.3h0M68.4 308.2h0M61.3 304.9h0M77.4 305.2h0M64.6 305.3h0M85.0 309.9h0M82.1 316.1h0M54.3 303.7h0M80.6 307.3h0M63.8 306.5h0M83.9 309.1h0M74.2 310.5h0M67.9 311.9h0M76.0 307.1h0M62.1 304.7h0M72.2 314.3h0M72.8 307.3h0M66.8 309.0h0M72.8 307.4h0M57.2 307.7h0M74.8 306.8h0M54.8 304.7h0M75.5 307.7h0M73.8 315.7h0M76.5 308.0h0M62.2 309.1h0M66.2 313.8h0M66.0 307.2h0M70.3 315.2h0M60.1 305.8h0M84.7 305.9h0M63.3 311.2h0M79.8 308.1h0M58.0 307.1h0M72.1 308.1h0M64.5 314.4h0M79.1 309.1h0M65.4 309.1h0M58.9 306.2h0M73.8 310.6h0M55.3 304.4h0M57.9 307.7h0M77.4 308.6h0M47.7 302.5h0M77.3 310.4h0M64.2 305.9h0M58.4 307.9h0M71.5 308.5h0M75.9 312.8h0M62.2 306.4h0M66.8 305.4h0M77.8 311.4h0M77.3 308.2h0M68.2 308.4h0M60.2 312.9h0M58.2 307.4h0M62.2 304.5h0M76.5 312.7h0M75.3 317.2h0M72.3 309.7h0M84.5 314.2h0M65.5 302.8h0M64.6 309.6h0M64.6 309.5h0M90.3 314.9h0M45.9 306.3h0M72.2 312.4h0M73.9 313.9h0M69.7 310.3h0M87.4 315.2h0M82.1 306.9h0M77.6 315.3h0M59.0 309.0h0M74.6 313.2h0M64.9 314.4h0M69.5 304.1h0M71.3 317.8h0M63.7 304.2h0M76.1 315.9h0M87.3 311.9h0M80.7 303.4h0M71.5 317.9h0M47.5 312.3h0M81.2 306.8h0M81.1 310.9h0M67.0 311.7h0M63.8 309.5h0M76.5 314.4h0M60.1 308.5h0M78.0 305.8h0M57.1 309.9h0M58.9 308.3h0M69.4 305.8h0M53.0 301.0h0M69.2 312.1h0M75.1 309.7h0M54.5 310.2h0M79.5 313.6h0M63.0 310.7h0M75.3 313.0h0M71.6 316.5h0M64.2 316.5h0M63.4 311.9h0M50.2 307.2h0M61.5 304.8h0M60.7 310.9h0M87.5 312.9h0M80.6 309.1h0M54.0 305.5h0M78.2 311.6h0M71.7 310.5h0M65.1 302.9h0M74.4 311.9h0M78.1 312.9h0M63.0 315.1h0M66.2 308.1h0M71.1 311.2h0M58.4 301.9h0M71.4 311.5h0M68.4 307.1h0M61.8 305.8h0M60.0 303.0h0M72.7 315.1h0M79.0 305.7h0M73.0 310.5h0M59.8 309.3h0M77.6 312.2h0M71.2 311.7h0M75.9 312.1h0M82.2 319.9h0M59.3 307.0h0M67.8 309.6h0M62.7 312.6h0M59.6 309.1h0M91.6 304.6h0M79.8 310.0h0M49.8 309.0h0M74.1 304.6h0M63.2 312.1h0M82.1 312.2h0M70.3 312.1h0M67.4 310.7h0M70.9 307.7h0M73.6 308.5h0M69.7 312.7h0M66.9 310.2h0M67.8 309.6h0M75.0 312.2h0M56.9 308.7h0M69.3 312.6h0M68.0 312.5h0M64.0 309.3h0M77.5 314.7h0M55.1 306.8h0M65.3 310.3h0M59.9 312.2h0M75.4 313.0h0M64.2 311.1h0M69.9 310.7h0M73.6 310.2h0M51.7 308.6h0M74.4 313.8h0M61.1 304.0h0M66.5 306.5h0M68.1 309.5h0M78.3 307.8h0M77.5 309.9h0M88.9 313.4h0M71.3 310.0h0M64.1 300.0h0M63.8 305.9h0M76.6 307.3h0M87.1 313.7h0M73.1 308.4h0M63.0 301.3h0M72.4 308.9h0M72.2 306.6h0M69.7 305.7h0M61.2 306.8h0M83.4 306.2h0M63.4 308.5h0M81.0 309.8h0M71.7 312.6h0M44.9 297.8h0M69.4 309.0h0M48.9 307.2h0M91.4 307.9h0M71.5 312.1h0M56.1 308.5h0M78.2 313.9h0M60.7 308.9h0M75.6 312.2h0M69.6 308.2h0M56.3 308.9h0M76.7 313.1h0M54.6 309.3h0M84.2 312.3h0M70.0 312.0h0M58.0 305.4h0M49.3 305.3h0M87.3 311.8h0M85.4 316.2h0M55.5 306.6h0M87.6 316.8h0M71.2 309.7h0M66.9 309.6h0M68.4 312.0h0M66.4 312.6h0M85.2 314.5h0M71.0 303.1h0M49.0 308.5h0M92.5 313.7h0M79.1 307.9h0M57.3 307.1h0M65.4 305.9h0M59.4 313.2h0M69.9 314.0h0M73.7 298.9h0M72.0 310.6h0M62.8 310.3h0M60.5 308.4h0M78.7 307.8h0M68.3 314.1h0M53.9 307.2h0M60.4 309.1h0M78.1 308.8h0M69.9 309.6h0M61.0 310.9h0M84.5 315.0h0M70.7 318.8h0M59.5 305.4h0M65.8 314.8h0M80.6 312.9h0M55.8 302.6h0M84.6 313.4h0M77.0 308.9h0M66.3 310.5h0M84.4 309.5h0M88.7 312.4h0M76.0 312.7h0M71.3 305.6h0M89.8 313.5h0M85.9 316.8h0M59.1 310.0h0M67.1 307.9h0M67.0 313.7h0M64.8 306.8h0M52.8 305.4h0M79.4 303.9h0M70.3 312.5h0M70.5 307.9h0M85.0 317.9h0M63.1 310.8h0M68.7 309.7h0M72.4 309.0h0M64.6 309.7h0M68.1 310.3h0M77.9 313.3h0M69.3 311.6h0M84.2 310.8h0M61.0 307.1h0M71.6 308.1h0M53.5 304.7h0M68.1 305.8h0M61.6 315.4h0M84.5 313.8h0M77.7 311.7h0M75.0 313.0h0M89.9 309.0h0M85.4 309.5h0M77.4 311.5h0M61.7 308.7h0M53.3 303.7h0M69.0 311.3h0M65.4 310.7h0M62.2 306.1h0M66.1 308.1h0M50.9 302.9h0M86.0 310.9h0M56.7 305.9h0M61.9 311.1h0M75.7 314.2h0M51.2 307.9h0M79.7 320.6h0M79.8 310.0h0M65.9 306.3h0M57.3 308.4h0M64.1 310.2h0M48.7 303.8h0M84.9 312.2h0M70.0 306.8h0M61.1 301.4h0M59.2 306.3h0M75.8 307.6h0M86.2 310.4h0M55.1 307.5h0M62.9 308.3h0M49.7 307.4h0M76.9 307.3h0M71.1 315.9h0M67.9 310.8h0M68.0 307.6h0M64.5 312.4h0M61.4 309.5h0M78.9 313.7h0M51.1 306.3h0M77.8 308.1h0M72.1 305.4h0M63.7 307.7h0M59.3 311.4h0M81.2 310.7h0M90.3 310.7h0M64.4 304.6h0M75.3 318.3h0M88.9 311.2h0M62.4 315.6h0M66.5 307.3h0M55.7 306.9h0M67.7 308.2h0M68.5 306.9h0M64.7 308.2h0M61.1 311.3h0M51.6 306.7h0M54.3 304.1h0M58.4 309.2h0M76.6 310.9h0M63.6 313.6h0M59.8 304.9h0M76.8 312.8h0M75.7 313.5h0M60.9 310.6h0M62.3 312.2h0M76.8 311.9h0M73.5 306.2h0M60.0 306.2h0M72.1 305.5h0M69.0 304.9h0M81.9 314.7h0M59.6 307.2h0M79.3 306.1h0M74.2 302.7h0M58.0 313.6h0M81.3 316.5h0M79.6 309.7h0M54.5 309.4h0M91.8 316.3h0M56.4 307.2h0M59.0 311.6h0M65.7 317.5h0M78.1 311.3h0M76.0 310.5h0M68.3 307.8h0M84.8 308.7h0M74.0 310.0h0M85.2 312.9h0M55.2 310.7h0M71.6 316.1h0M49.4 309.2h0M64.2 306.0h0M57.2 306.3h0M70.4 303.1h0M70.5 310.8h0M55.4 314.6h0M56.3 305.6h0M66.4 306.1h0M67.1 313.9h0M71.4 316.0h0M80.5 310.9h0M69.7 307.7h0M69.3 314.0h0M72.8 311.7h0M57.7 311.4h0M68.8 314.1h0M81.2 316.1h0M81.7 311.1h0M74.7 312.1h0M66.2 312.1h0M60.0 318.0h0M84.5 305.9h0M75.4 314.1h0M64.5 310.0h0M44.5 311.0h0M38.8 299.7h0M51.6 297.3h0M77.3 292.4h0" stroke="#ff7b22" stroke-width="2.05" stroke-linecap="round" fill="none"/>
<path d="M60.9 326.5h0M73.5 341.1h0M67.6 328.7h0M64.8 330.9h0M68.8 322.4h0M66.8 337.9h0M57.2 334.5h0M50.7 331.3h0M51.4 313.3h0M65.9 340.8h0M64.1 327.2h0M71.5 334.5h0M57.3 327.1h0M54.7 324.4h0M67.1 328.4h0M69.6 327.5h0M58.0 327.3h0M66.2 334.0h0M72.3 331.2h0M69.1 342.3h0M62.8 332.2h0M49.9 335.4h0M72.1 331.5h0M64.5 323.8h0M61.9 326.6h0M57.6 325.9h0M50.4 321.0h0M68.2 347.9h0M60.2 326.2h0M69.8 329.7h0M54.0 330.3h0M75.8 339.6h0M60.9 325.3h0M67.1 320.7h0M52.5 321.6h0M64.8 330.2h0M68.8 324.6h0M60.4 322.4h0M46.8 315.5h0M56.4 320.1h0M65.5 328.4h0M52.2 328.8h0M51.7 328.2h0M63.2 327.8h0M57.0 333.4h0M64.7 323.6h0M56.0 334.9h0M51.7 335.7h0M55.8 326.8h0M74.1 334.0h0M56.9 331.4h0M68.0 345.6h0M61.6 323.4h0M55.6 329.6h0M70.1 330.5h0M62.1 326.0h0M64.7 327.9h0M52.5 334.9h0M44.4 314.1h0M44.4 333.0h0M58.1 322.0h0M55.4 315.4h0M68.9 334.3h0M72.2 328.8h0M62.7 335.9h0M57.4 321.5h0M66.3 332.1h0M75.9 338.0h0M52.8 319.4h0M63.9 322.5h0M63.0 336.4h0M56.5 320.4h0M67.3 328.1h0M58.1 333.4h0M50.0 316.3h0M68.4 333.8h0M62.8 331.6h0M62.9 336.3h0M60.9 328.5h0M65.5 329.2h0M57.6 323.9h0M67.3 328.9h0M69.2 340.9h0M74.8 335.8h0M67.0 318.7h0M64.9 320.7h0M61.3 330.8h0M63.4 330.6h0M58.6 330.9h0M81.9 329.4h0M65.4 342.5h0M63.5 322.7h0M73.5 334.7h0M52.4 328.4h0M63.7 349.1h0M58.8 327.8h0M51.6 319.3h0M59.8 346.8h0M54.4 317.9h0M69.8 325.9h0M69.3 335.2h0M67.0 341.8h0M59.1 320.6h0M50.0 327.6h0M65.4 325.0h0M66.0 331.7h0M57.0 335.7h0M61.2 322.9h0M63.6 336.9h0M56.1 322.6h0M60.1 342.5h0M60.2 336.7h0M59.8 340.8h0M61.7 319.5h0M69.7 343.1h0M67.7 338.4h0M59.1 324.5h0M58.8 327.8h0M70.2 312.7h0M44.2 315.4h0M68.8 324.8h0M62.7 324.3h0M67.9 343.7h0M61.2 336.4h0M61.7 332.1h0M54.6 331.0h0M56.6 340.2h0M64.1 336.8h0M53.2 336.1h0M65.0 321.4h0M68.8 326.3h0M57.9 332.2h0M52.3 331.7h0M63.3 327.3h0M65.7 335.0h0M63.8 331.6h0M70.1 342.9h0M65.5 324.4h0M65.5 322.2h0M73.6 326.8h0M61.1 325.9h0M67.2 326.8h0M45.3 313.8h0M60.8 328.0h0M57.6 339.8h0M74.9 337.7h0M76.4 324.1h0M63.0 321.3h0M51.1 323.6h0M59.1 323.1h0M62.0 328.1h0M67.9 341.1h0M71.8 335.1h0M74.0 343.6h0M45.1 332.6h0M75.6 340.1h0M58.6 328.9h0M58.9 330.9h0M77.6 344.7h0M58.4 323.9h0M50.7 323.7h0M57.1 340.4h0M62.3 328.5h0M66.5 324.1h0M73.5 331.9h0M58.7 323.0h0M58.5 328.2h0M70.5 321.3h0M58.6 328.2h0M72.9 330.9h0M62.5 325.7h0M61.7 323.6h0M60.0 327.7h0M65.7 333.1h0M61.4 335.8h0M58.7 332.6h0M63.0 334.1h0M57.3 328.1h0M64.0 328.3h0M63.2 330.3h0M60.5 329.7h0M60.5 328.3h0M56.3 317.5h0M70.9 320.3h0M63.9 334.2h0M57.0 326.4h0M61.2 332.2h0M67.2 330.4h0M61.7 331.6h0M63.1 334.6h0M64.5 340.3h0M70.5 348.9h0M64.5 328.1h0M62.0 320.5h0M53.6 336.8h0M53.5 325.8h0M45.3 332.7h0M67.1 327.5h0M72.3 336.0h0M72.0 331.5h0M63.7 330.6h0M77.1 348.2h0M61.5 328.0h0M61.9 330.8h0M58.8 349.1h0M55.1 324.7h0M58.4 330.0h0M68.1 328.1h0M72.8 326.9h0M60.3 333.0h0M68.0 338.1h0M65.5 333.2h0M58.2 333.1h0M44.1 312.4h0M51.9 315.4h0M53.8 333.6h0M61.4 333.0h0M60.5 327.3h0M59.5 325.4h0M63.2 335.2h0M68.6 337.6h0M50.4 314.7h0M65.5 321.5h0M55.3 341.9h0M67.9 343.6h0M67.4 336.3h0M56.3 328.1h0M49.8 325.5h0M67.7 332.5h0M62.3 342.4h0M67.1 328.1h0M65.9 325.1h0M62.3 329.8h0M63.8 333.7h0M67.5 325.3h0M65.1 330.3h0M59.1 338.6h0M63.2 329.1h0M69.9 340.0h0M61.0 322.3h0M62.3 326.1h0M64.2 337.6h0M60.9 328.2h0M52.3 320.0h0M58.7 346.7h0M70.5 330.9h0M53.2 316.9h0M68.4 342.0h0M52.5 331.1h0M67.6 341.0h0M56.9 330.4h0M89.7 348.7h0M60.0 342.6h0M57.3 334.1h0M68.5 328.7h0M69.1 326.8h0M46.6 326.5h0M60.8 320.8h0M66.4 324.3h0M51.8 324.0h0M69.9 337.6h0M59.2 331.1h0M57.5 335.3h0M53.4 311.9h0M56.8 323.3h0M50.7 324.0h0M74.9 322.0h0M60.4 333.0h0M51.5 314.3h0M69.3 332.8h0M62.1 330.5h0M65.2 312.6h0M66.6 346.3h0M63.7 327.0h0M68.0 343.5h0M65.4 335.0h0M61.2 330.6h0M62.7 332.6h0M73.4 328.4h0M59.9 335.9h0M58.9 330.6h0M63.4 339.2h0M67.4 332.9h0M69.1 340.8h0M66.9 324.6h0M56.9 340.1h0M62.1 324.3h0M62.3 333.1h0M61.3 332.2h0M60.0 320.4h0M48.5 329.0h0M69.8 344.9h0M61.9 325.8h0M61.0 352.9h0M60.9 327.7h0M74.1 333.0h0M63.8 341.0h0M66.2 329.2h0M61.7 332.3h0M50.9 313.8h0M57.3 333.3h0M53.9 314.3h0M67.2 318.8h0M69.7 334.7h0M59.9 336.3h0M65.3 319.3h0M61.9 330.9h0M57.2 328.5h0M66.0 331.9h0M59.7 339.5h0M52.7 332.8h0M74.0 337.5h0M54.3 342.1h0M66.9 332.2h0M46.7 315.5h0M57.4 316.9h0M61.2 330.3h0M59.0 328.7h0M45.9 325.7h0M57.6 318.9h0M61.2 327.3h0M57.6 333.7h0M63.0 333.0h0M65.8 320.7h0M58.7 333.2h0M66.0 334.8h0M60.5 346.3h0M62.6 323.3h0M67.0 330.4h0M78.9 328.7h0M64.9 319.9h0M65.1 329.3h0M75.9 340.5h0M61.4 345.6h0M69.8 330.2h0M62.1 339.1h0M57.3 327.5h0M73.6 340.1h0M65.0 332.7h0M75.8 341.7h0M53.6 332.7h0M65.6 333.4h0M57.0 325.0h0M56.6 319.0h0M49.9 331.3h0M71.3 336.8h0M58.1 314.1h0M54.6 326.9h0M51.4 324.9h0M54.7 324.9h0M67.6 318.1h0M58.7 321.7h0M58.1 324.3h0M63.5 323.6h0M65.0 336.7h0M65.8 334.7h0M67.8 330.7h0M64.4 329.0h0M68.3 329.6h0M53.4 327.3h0M62.8 329.6h0M61.3 333.2h0M68.0 342.9h0M59.7 323.1h0M56.4 325.1h0M62.7 336.9h0M67.4 325.8h0M57.5 326.6h0M53.8 329.2h0M71.9 344.6h0M72.6 339.5h0M62.4 334.6h0M58.6 316.8h0M59.3 336.7h0M62.1 332.6h0M73.3 338.7h0M69.4 333.8h0M62.5 327.0h0M66.8 346.5h0M59.8 352.7h0M62.7 324.5h0M65.5 329.5h0M71.4 334.7h0M73.3 322.0h0M62.2 322.0h0M75.2 346.7h0M55.5 331.1h0M67.4 320.9h0M70.4 335.2h0M72.7 332.3h0M64.3 322.1h0M66.4 332.0h0M76.1 339.5h0M60.1 335.3h0M70.8 340.5h0M68.2 325.3h0M62.3 343.7h0M51.8 321.7h0M70.4 343.1h0M63.3 329.4h0M71.0 341.6h0M67.9 332.3h0M54.4 321.5h0M61.5 320.7h0M66.3 319.3h0M60.5 330.5h0M60.4 328.9h0M54.3 327.9h0M66.3 324.8h0M76.9 333.0h0M50.1 320.9h0M66.8 327.2h0M65.3 320.6h0M57.4 325.9h0M58.1 324.3h0M57.7 335.7h0M58.6 333.2h0M67.6 340.2h0M67.9 332.2h0M63.9 331.2h0M65.9 323.0h0M67.8 340.0h0M52.7 324.2h0M72.8 330.8h0M66.9 319.6h0M54.8 321.4h0M82.1 350.2h0M66.6 331.9h0M59.2 317.9h0M82.8 349.4h0M43.6 323.6h0M54.6 337.2h0M68.8 333.6h0M60.4 328.0h0M61.8 344.9h0M72.3 328.2h0M67.9 335.0h0M56.3 335.9h0M56.2 324.1h0M69.0 331.5h0M73.7 327.0h0M47.6 325.3h0M64.5 330.2h0M62.3 335.7h0M50.2 327.7h0M57.1 317.5h0M51.4 328.3h0M56.5 322.6h0M74.3 331.6h0M66.4 330.3h0M72.9 343.1h0M65.1 325.1h0M63.5 325.4h0M68.5 327.7h0M58.2 338.8h0M63.7 339.0h0M69.2 331.7h0M57.6 329.0h0M63.4 339.6h0M74.1 338.5h0M71.5 325.3h0M55.6 321.5h0M59.0 334.4h0M68.8 335.5h0M66.8 335.7h0M58.6 330.9h0M65.4 325.9h0M66.7 330.4h0M60.4 321.7h0M75.8 311.3h0M68.5 320.4h0M72.6 341.4h0M70.0 330.6h0M84.0 333.1h0M71.3 332.6h0M61.6 339.7h0M66.2 333.0h0M66.6 338.7h0M58.0 327.1h0M64.5 329.5h0M68.7 341.3h0M67.5 343.7h0M61.0 333.8h0M66.5 324.6h0M50.6 325.9h0M68.6 330.4h0M62.4 328.4h0M66.2 333.9h0M49.0 335.9h0M75.2 332.6h0M54.8 339.8h0M39.7 330.4h0M45.7 336.9h0" stroke="#ff1a1a" stroke-width="2.05" stroke-linecap="round" fill="none"/>
<path d="M68.8 316.1h0M60.8 330.4h0M65.9 328.1h0M68.9 349.0h0M64.5 328.4h0M67.7 321.0h0M59.9 315.6h0M68.1 326.7h0M58.9 320.9h0M72.5 318.4h0M64.3 331.1h0M74.5 332.0h0M81.2 331.8h0M54.2 333.2h0M55.3 309.3h0M64.2 322.6h0M67.4 306.5h0M65.1 330.7h0M66.1 317.5h0M60.1 319.6h0M69.9 326.0h0M57.3 319.8h0M73.5 332.2h0M48.0 324.3h0M55.8 328.0h0M73.9 314.7h0M67.1 324.4h0M65.4 339.4h0M80.3 327.7h0M72.4 324.5h0M75.8 333.8h0M58.3 308.1h0M68.0 318.8h0M65.7 313.7h0M58.5 332.2h0M70.7 328.0h0M60.9 311.8h0M78.7 339.8h0M72.2 319.2h0M61.5 322.4h0M63.9 329.1h0M66.5 322.4h0M73.6 335.8h0M62.4 320.8h0M69.4 337.4h0M74.0 338.1h0M63.1 307.3h0M75.3 331.5h0M74.8 347.7h0M56.8 312.2h0M57.8 332.3h0M83.4 363.9h0M63.9 324.1h0M60.2 312.7h0M62.6 319.3h0M49.9 303.6h0M63.8 324.8h0M47.7 316.5h0M66.9 335.0h0M59.6 321.5h0M71.2 305.8h0M66.5 317.6h0M63.8 321.5h0M73.9 346.1h0M71.5 327.7h0M65.8 338.2h0M61.4 314.4h0M66.2 331.9h0M79.4 319.2h0M69.8 334.9h0M47.1 302.5h0M74.8 336.9h0M80.8 321.8h0M64.5 338.0h0M86.0 320.9h0M68.5 333.4h0M69.5 316.3h0M58.6 311.9h0M60.8 313.3h0M65.4 346.1h0M58.4 320.9h0M60.4 347.9h0M72.4 322.6h0M58.4 322.5h0M69.6 328.7h0M65.2 315.6h0M59.9 317.7h0M70.3 337.1h0M59.1 304.6h0M63.5 326.2h0M72.4 343.7h0M60.8 307.2h0M53.8 305.6h0M53.1 308.9h0M58.4 317.0h0M69.6 333.7h0M70.6 312.5h0M74.1 322.0h0M64.5 313.9h0M65.5 304.8h0M69.2 332.3h0M68.6 311.5h0M62.9 312.5h0M73.5 340.6h0M69.8 342.2h0M68.2 331.7h0M76.9 322.4h0M56.6 318.1h0M66.4 325.9h0M62.2 324.1h0M71.9 324.6h0M76.4 322.3h0M61.5 316.5h0M46.8 317.6h0M69.5 324.0h0M68.4 320.3h0M56.9 328.6h0M61.2 314.1h0M67.0 329.2h0M45.3 304.3h0M69.8 323.6h0M67.2 320.1h0M69.8 332.1h0M60.3 327.3h0M60.6 321.4h0M61.6 323.1h0M70.8 330.5h0M63.8 336.8h0M74.4 322.8h0M67.3 321.5h0M50.1 316.9h0M71.3 308.8h0M67.7 326.9h0M69.5 346.5h0M66.7 325.0h0M61.1 344.8h0M71.5 338.3h0M46.6 311.3h0M57.1 316.7h0M76.2 330.8h0M75.6 330.7h0M63.8 324.3h0M66.1 343.7h0M69.5 317.7h0M66.5 327.4h0M75.0 348.9h0M73.3 335.6h0M55.2 311.6h0M72.9 331.2h0M48.7 311.4h0M78.1 334.7h0M53.1 314.7h0M63.3 328.4h0M64.4 332.9h0M70.5 325.0h0M68.3 317.7h0M66.2 318.6h0M63.0 304.9h0M65.3 313.7h0M74.8 354.0h0M55.2 327.9h0M58.6 346.5h0M52.7 327.8h0M62.9 316.0h0M69.0 338.9h0M69.0 337.0h0M66.3 321.6h0M65.1 326.6h0M53.4 304.8h0M55.0 319.5h0M51.8 317.1h0M66.5 302.8h0M72.9 329.1h0M57.1 323.3h0M67.4 334.8h0M67.2 320.2h0M71.4 311.2h0M56.6 307.3h0M66.6 323.7h0M75.2 331.6h0M57.5 332.2h0M66.1 339.5h0M64.7 321.8h0M55.9 307.4h0M87.3 350.9h0M78.9 348.7h0M61.4 306.9h0M65.4 342.0h0M69.5 319.4h0M74.0 337.9h0M59.3 314.1h0M59.8 314.1h0M55.7 321.2h0M61.8 313.6h0M70.6 322.6h0M69.5 316.6h0M74.3 339.9h0M66.4 310.3h0M64.2 330.9h0M65.4 332.6h0M73.7 326.0h0M69.0 325.9h0M60.2 322.3h0M70.7 330.2h0M68.1 315.5h0M69.6 322.7h0M64.7 318.9h0M62.1 323.1h0M65.5 316.0h0M80.3 337.1h0M60.4 304.6h0M59.9 319.1h0M65.8 317.9h0M55.4 316.0h0M62.7 310.5h0M60.7 314.5h0M70.4 320.3h0M66.6 325.2h0M77.9 342.3h0M78.7 320.6h0M65.1 326.7h0M61.3 326.8h0M71.8 334.5h0M71.7 344.8h0M66.0 322.4h0M57.1 308.9h0M65.2 311.8h0M61.1 308.5h0M56.7 337.9h0M67.4 334.3h0M65.0 315.8h0M73.7 326.5h0M55.3 303.0h0M59.5 320.3h0M71.6 320.7h0M59.9 317.8h0M66.9 326.2h0M67.7 321.6h0M72.3 330.9h0M65.4 323.4h0M60.2 328.6h0M70.5 320.0h0M67.9 339.6h0M67.6 340.4h0M75.9 317.6h0M69.8 320.3h0M62.3 334.2h0M63.1 325.6h0M67.6 335.2h0M57.7 313.6h0M59.2 341.2h0M63.8 302.9h0M73.1 332.6h0M65.2 318.0h0M63.7 326.0h0M68.0 327.4h0M65.7 312.0h0M55.8 313.4h0M64.3 326.3h0M65.2 333.6h0M66.0 311.8h0M61.6 306.5h0M56.7 321.2h0M62.5 326.4h0M75.0 319.5h0M58.9 321.9h0M61.7 308.9h0M64.9 334.2h0M72.8 322.6h0M67.7 332.1h0M57.7 307.6h0M55.8 315.9h0M64.0 324.0h0M68.3 316.6h0M64.1 306.4h0M58.2 326.4h0M78.2 333.8h0M59.8 310.7h0M56.8 316.9h0M66.7 325.3h0M55.9 305.8h0M60.7 320.1h0M67.9 343.7h0M63.3 318.8h0M62.3 323.6h0M53.8 320.1h0M68.4 323.1h0M62.7 325.3h0M70.9 317.7h0M67.5 320.0h0M74.2 339.4h0M65.8 321.5h0M74.3 326.7h0M57.9 306.4h0M67.4 349.0h0M71.4 335.9h0M52.1 334.2h0M66.0 332.7h0M68.9 330.5h0M65.2 330.9h0M72.6 322.2h0M65.4 310.1h0M70.7 338.1h0M68.4 340.9h0M78.7 344.4h0M56.9 309.9h0M57.7 307.3h0M75.4 340.8h0M74.9 342.0h0M77.1 321.3h0M59.7 310.0h0M49.8 310.9h0M68.4 320.6h0M70.3 314.8h0M62.9 319.0h0M76.7 329.3h0M75.3 320.4h0M61.1 322.8h0M66.3 335.9h0M59.2 328.3h0M74.2 340.9h0M69.5 322.6h0M64.7 310.0h0M62.3 337.6h0M56.2 309.6h0M58.3 329.1h0M53.8 318.4h0M61.2 336.4h0M58.6 332.8h0M65.2 326.7h0M72.5 337.8h0M73.6 337.5h0M65.9 325.9h0M61.7 324.9h0M62.8 315.7h0M73.0 336.9h0M58.9 309.1h0M61.5 310.4h0M59.9 312.4h0M64.3 330.4h0M58.8 302.4h0M59.5 326.8h0M66.5 307.0h0M51.5 310.3h0M71.2 333.3h0M58.5 328.1h0M79.0 337.6h0M66.7 311.1h0M60.7 324.6h0M61.6 320.4h0M57.4 320.5h0M67.6 331.9h0M68.3 325.2h0M83.1 330.5h0M58.3 327.8h0M70.9 317.3h0M65.1 334.0h0M64.0 314.3h0M70.0 321.5h0M65.5 313.9h0M64.3 312.4h0M59.2 308.2h0M62.7 315.4h0M63.4 314.5h0M73.1 324.9h0M54.0 316.1h0M65.4 333.4h0M58.4 325.7h0M56.4 314.0h0M60.4 323.4h0M70.1 317.6h0M82.1 335.2h0M68.2 306.8h0M60.0 329.6h0M64.1 318.2h0M58.2 323.1h0M64.3 311.9h0M74.2 327.3h0M72.4 334.6h0M77.5 345.1h0M65.3 326.4h0M57.5 336.8h0M51.0 316.5h0M59.1 305.9h0M76.9 348.9h0M77.6 338.0h0M61.8 319.2h0M60.9 308.3h0M65.5 319.2h0M70.3 319.0h0M62.8 316.9h0M56.3 316.1h0M65.5 303.5h0M65.3 315.6h0M72.0 337.4h0M59.1 328.4h0M64.2 320.4h0M57.6 332.4h0M53.8 325.9h0M65.6 329.0h0M65.0 331.1h0M65.9 314.7h0M75.3 327.4h0M68.9 335.7h0M78.6 331.2h0M61.4 322.4h0M67.1 314.6h0M56.4 319.8h0M60.3 305.4h0M61.3 317.0h0M71.8 348.1h0M67.2 318.4h0M56.8 332.9h0M70.8 338.8h0M64.2 335.5h0M62.8 313.3h0M73.4 341.4h0M65.1 330.1h0M58.5 309.2h0M55.6 315.0h0M74.8 343.0h0M61.4 324.1h0M69.7 328.9h0M57.1 325.1h0M70.6 314.0h0M61.0 329.6h0M73.3 326.6h0M56.9 305.6h0M75.3 344.6h0M65.6 327.2h0M67.4 317.3h0M69.8 337.5h0M75.2 330.3h0M74.1 338.4h0M68.6 321.0h0M77.6 330.2h0M57.9 313.6h0M69.2 310.8h0M65.3 322.3h0M57.5 327.3h0M67.0 319.8h0M63.6 322.2h0M79.9 337.2h0M58.1 310.2h0M64.5 320.2h0M63.6 313.6h0M58.6 338.9h0M64.9 312.5h0M63.0 335.2h0M71.3 315.6h0M80.7 340.0h0M64.9 322.4h0M55.7 323.6h0M65.4 320.3h0M67.0 325.6h0M67.6 317.0h0M65.0 328.4h0M57.0 320.2h0M66.8 331.0h0M59.1 321.7h0M72.1 311.1h0M62.6 328.7h0M58.6 315.0h0M68.1 333.4h0M59.0 327.3h0M63.3 325.7h0M59.6 308.2h0M65.0 332.0h0M59.0 308.5h0M78.1 340.2h0M68.3 324.8h0M53.5 312.1h0M59.9 314.7h0M73.4 334.9h0M65.7 337.4h0M62.3 312.5h0M69.7 337.8h0M66.1 316.1h0M66.0 329.1h0M64.3 323.1h0M59.6 322.1h0M61.5 304.6h0M56.3 313.0h0M80.8 339.2h0M63.8 319.1h0M63.5 322.3h0M70.3 324.1h0M59.6 307.1h0M72.1 343.3h0M63.6 319.2h0M60.2 321.4h0M39.7 323.9h0M80.2 363.5h0M82.2 364.7h0M81.2 360.3h0M65.4 355.4h0M91.1 351.4h0" stroke="#1b0b0b" stroke-width="2.05" stroke-linecap="round" fill="none"/>
<circle cx="100.8" cy="291.2" r="2.55" fill="#220a0a"/>
<text stroke="#222" stroke-width="0.1" x="105.3" y="293.8" transform="matrix(1 0 0 1.12 0 -35.26)" font-size="7.4" fill="#222">AR</text>
<circle cx="100.8" cy="298.8" r="2.55" fill="#ff1a1a"/>
<text stroke="#222" stroke-width="0.1" x="105.3" y="301.4" transform="matrix(1 0 0 1.12 0 -36.17)" font-size="7.4" fill="#222">PI3KCA</text>
<circle cx="100.8" cy="306.4" r="2.55" fill="#ff7b22"/>
<text stroke="#222" stroke-width="0.1" x="105.3" y="309" transform="matrix(1 0 0 1.12 0 -37.08)" font-size="7.4" fill="#222">PI3KCB</text>
<text stroke="#222" stroke-width="0.1" x="189" y="298.9" transform="matrix(1 0 0 1.12 0 -35.87)" font-size="6.7" text-anchor="middle" fill="#222">AR</text>
<text stroke="#222" stroke-width="0.1" x="221.3" y="298.9" transform="matrix(1 0 0 1.12 0 -35.87)" font-size="6.7" text-anchor="middle" fill="#222">PI3KCA</text>
<text stroke="#222" stroke-width="0.1" x="253.8" y="298.9" transform="matrix(1 0 0 1.12 0 -35.87)" font-size="6.7" text-anchor="middle" fill="#222">PI3KCB</text>
<text stroke="#222" stroke-width="0.1" x="286.8" y="298.9" transform="matrix(1 0 0 1.12 0 -35.87)" font-size="6.7" text-anchor="middle" fill="#222">CCND1</text>
<text stroke="#222" stroke-width="0.1" x="320.3" y="298.9" transform="matrix(1 0 0 1.12 0 -35.87)" font-size="6.7" text-anchor="middle" fill="#222">RSPO2</text>
<text stroke="#222" stroke-width="0.1" x="160.1" y="314.2" transform="matrix(1 0 0 1.12 0 -37.70)" font-size="6.7" text-anchor="middle" fill="#222">MLK1</text>
<text stroke="#f02828" stroke-width="0.1" x="189" y="308.3" transform="matrix(1 0 0 1.12 0 -37.00)" font-size="6.7" text-anchor="middle" fill="#f02828">0.66</text>
<text stroke="#222" stroke-width="0.1" x="189" y="317.6" transform="matrix(1 0 0 1.12 0 -38.11)" font-size="6.7" text-anchor="middle" fill="#222">p<0.0001</text>
<text stroke="#f02828" stroke-width="0.1" x="221.3" y="308.3" transform="matrix(1 0 0 1.12 0 -37.00)" font-size="6.7" text-anchor="middle" fill="#f02828">0.572</text>
<text stroke="#222" stroke-width="0.1" x="221.3" y="317.6" transform="matrix(1 0 0 1.12 0 -38.11)" font-size="6.7" text-anchor="middle" fill="#222">p<0.0001</text>
<text stroke="#f02828" stroke-width="0.1" x="253.8" y="308.3" transform="matrix(1 0 0 1.12 0 -37.00)" font-size="6.7" text-anchor="middle" fill="#f02828">0.32</text>
<text stroke="#222" stroke-width="0.1" x="253.8" y="317.6" transform="matrix(1 0 0 1.12 0 -38.11)" font-size="6.7" text-anchor="middle" fill="#222">p<0.0001</text>
<text stroke="#222" stroke-width="0.1" x="286.8" y="308.3" transform="matrix(1 0 0 1.12 0 -37.00)" font-size="6.7" text-anchor="middle" fill="#222">0.03</text>
<text stroke="#222" stroke-width="0.1" x="286.8" y="317.6" transform="matrix(1 0 0 1.12 0 -38.11)" font-size="6.7" text-anchor="middle" fill="#222">p=0.519</text>
<text stroke="#222" stroke-width="0.1" x="320.3" y="308.3" transform="matrix(1 0 0 1.12 0 -37.00)" font-size="6.7" text-anchor="middle" fill="#222">−0.14</text>
<text stroke="#222" stroke-width="0.1" x="320.3" y="317.6" transform="matrix(1 0 0 1.12 0 -38.11)" font-size="6.7" text-anchor="middle" fill="#222">p<0.0001</text>
<text stroke="#222" stroke-width="0.1" x="160.1" y="339.1" transform="matrix(1 0 0 1.12 0 -40.69)" font-size="6.7" text-anchor="middle" fill="#222">MLK2</text>
<text stroke="#222" stroke-width="0.1" x="189" y="334.2" transform="matrix(1 0 0 1.12 0 -40.10)" font-size="6.7" text-anchor="middle" fill="#222">−0.160</text>
<text stroke="#222" stroke-width="0.1" x="189" y="343.5" transform="matrix(1 0 0 1.12 0 -41.22)" font-size="6.7" text-anchor="middle" fill="#222">p<0.0001</text>
<text stroke="#222" stroke-width="0.1" x="221.3" y="334.2" transform="matrix(1 0 0 1.12 0 -40.10)" font-size="6.7" text-anchor="middle" fill="#222">−0.282</text>
<text stroke="#222" stroke-width="0.1" x="221.3" y="343.5" transform="matrix(1 0 0 1.12 0 -41.22)" font-size="6.7" text-anchor="middle" fill="#222">p<0.0001</text>
<text stroke="#222" stroke-width="0.1" x="253.8" y="334.2" transform="matrix(1 0 0 1.12 0 -40.10)" font-size="6.7" text-anchor="middle" fill="#222">−0.1</text>
<text stroke="#222" stroke-width="0.1" x="253.8" y="343.5" transform="matrix(1 0 0 1.12 0 -41.22)" font-size="6.7" text-anchor="middle" fill="#222">p<0.05</text>
<text stroke="#222" stroke-width="0.1" x="286.8" y="334.2" transform="matrix(1 0 0 1.12 0 -40.10)" font-size="6.7" text-anchor="middle" fill="#222">0.08</text>
<text stroke="#222" stroke-width="0.1" x="286.8" y="343.5" transform="matrix(1 0 0 1.12 0 -41.22)" font-size="6.7" text-anchor="middle" fill="#222">p=0.087</text>
<text stroke="#222" stroke-width="0.1" x="320.3" y="334.2" transform="matrix(1 0 0 1.12 0 -40.10)" font-size="6.7" text-anchor="middle" fill="#222">−0.24</text>
<text stroke="#222" stroke-width="0.1" x="320.3" y="343.5" transform="matrix(1 0 0 1.12 0 -41.22)" font-size="6.7" text-anchor="middle" fill="#222">p<0.0001</text>
<text stroke="#222" stroke-width="0.1" x="160.1" y="363.6" transform="matrix(1 0 0 1.12 0 -43.63)" font-size="6.7" text-anchor="middle" fill="#222">MLK3</text>
<text stroke="#222" stroke-width="0.1" x="189" y="358.7" transform="matrix(1 0 0 1.12 0 -43.04)" font-size="6.7" text-anchor="middle" fill="#222">−0.52</text>
<text stroke="#222" stroke-width="0.1" x="189" y="368" transform="matrix(1 0 0 1.12 0 -44.16)" font-size="6.7" text-anchor="middle" fill="#222">p<0.0001</text>
<text stroke="#222" stroke-width="0.1" x="221.3" y="358.7" transform="matrix(1 0 0 1.12 0 -43.04)" font-size="6.7" text-anchor="middle" fill="#222">−0.59</text>
<text stroke="#222" stroke-width="0.1" x="221.3" y="368" transform="matrix(1 0 0 1.12 0 -44.16)" font-size="6.7" text-anchor="middle" fill="#222">p<0.0001</text>
<text stroke="#222" stroke-width="0.1" x="253.8" y="358.7" transform="matrix(1 0 0 1.12 0 -43.04)" font-size="6.7" text-anchor="middle" fill="#222">−0.48</text>
<text stroke="#222" stroke-width="0.1" x="253.8" y="368" transform="matrix(1 0 0 1.12 0 -44.16)" font-size="6.7" text-anchor="middle" fill="#222">p<0.0001</text>
<text stroke="#222" stroke-width="0.1" x="286.8" y="358.7" transform="matrix(1 0 0 1.12 0 -43.04)" font-size="6.7" text-anchor="middle" fill="#222">0.00</text>
<text stroke="#222" stroke-width="0.1" x="286.8" y="368" transform="matrix(1 0 0 1.12 0 -44.16)" font-size="6.7" text-anchor="middle" fill="#222">p=0.955</text>
<text stroke="#222" stroke-width="0.1" x="320.3" y="358.7" transform="matrix(1 0 0 1.12 0 -43.04)" font-size="6.7" text-anchor="middle" fill="#222">−0.11</text>
<text stroke="#222" stroke-width="0.1" x="320.3" y="368" transform="matrix(1 0 0 1.12 0 -44.16)" font-size="6.7" text-anchor="middle" fill="#222">p=0.012</text>
<text stroke="#222" stroke-width="0.1" x="160.1" y="388.1" transform="matrix(1 0 0 1.12 0 -46.57)" font-size="6.7" text-anchor="middle" fill="#222">MLK4</text>
<text stroke="#f02828" stroke-width="0.1" x="189" y="382.2" transform="matrix(1 0 0 1.12 0 -45.86)" font-size="6.7" text-anchor="middle" fill="#f02828">0.45</text>
<text stroke="#222" stroke-width="0.1" x="189" y="391.5" transform="matrix(1 0 0 1.12 0 -46.98)" font-size="6.7" text-anchor="middle" fill="#222">p<0.0001</text>
<text stroke="#f02828" stroke-width="0.1" x="221.3" y="382.2" transform="matrix(1 0 0 1.12 0 -45.86)" font-size="6.7" text-anchor="middle" fill="#f02828">0.41</text>
<text stroke="#222" stroke-width="0.1" x="221.3" y="391.5" transform="matrix(1 0 0 1.12 0 -46.98)" font-size="6.7" text-anchor="middle" fill="#222">p<0.0001</text>
<text stroke="#f02828" stroke-width="0.1" x="253.8" y="382.2" transform="matrix(1 0 0 1.12 0 -45.86)" font-size="6.7" text-anchor="middle" fill="#f02828">0.1</text>
<text stroke="#222" stroke-width="0.1" x="253.8" y="391.5" transform="matrix(1 0 0 1.12 0 -46.98)" font-size="6.7" text-anchor="middle" fill="#222">p<0.05</text>
<text stroke="#222" stroke-width="0.1" x="286.8" y="382.2" transform="matrix(1 0 0 1.12 0 -45.86)" font-size="6.7" text-anchor="middle" fill="#222">−0.07</text>
<text stroke="#222" stroke-width="0.1" x="286.8" y="391.5" transform="matrix(1 0 0 1.12 0 -46.98)" font-size="6.7" text-anchor="middle" fill="#222">p=0.098</text>
<text stroke="#222" stroke-width="0.1" x="320.3" y="382.2" transform="matrix(1 0 0 1.12 0 -45.86)" font-size="6.7" text-anchor="middle" fill="#222">−0.17</text>
<text stroke="#222" stroke-width="0.1" x="320.3" y="391.5" transform="matrix(1 0 0 1.12 0 -46.98)" font-size="6.7" text-anchor="middle" fill="#222">p<0.0001</text>
<path d="M178 323.7H320" stroke="#555" stroke-width="1"/>
<path d="M178 349.2H320" stroke="#555" stroke-width="1"/>
<path d="M178 372.7H320" stroke="#555" stroke-width="1"/>
<path d="M30.8 420.5V507.3H148.7" fill="none" stroke="#222" stroke-width="0.9"/>
<path d="M28.3 421.3H30.8" stroke="#222" stroke-width="0.8"/>
<text stroke="#222" stroke-width="0.1" x="28.6" y="423.7" transform="matrix(1 0 0 1.12 0 -50.84)" font-size="6.8" text-anchor="end" fill="#222">6</text>
<path d="M28.3 440.4H30.8" stroke="#222" stroke-width="0.8"/>
<text stroke="#222" stroke-width="0.1" x="28.6" y="442.8" transform="matrix(1 0 0 1.12 0 -53.14)" font-size="6.8" text-anchor="end" fill="#222">4</text>
<path d="M28.3 459.5H30.8" stroke="#222" stroke-width="0.8"/>
<text stroke="#222" stroke-width="0.1" x="28.6" y="461.9" transform="matrix(1 0 0 1.12 0 -55.43)" font-size="6.8" text-anchor="end" fill="#222">2</text>
<path d="M28.3 478.6H30.8" stroke="#222" stroke-width="0.8"/>
<text stroke="#222" stroke-width="0.1" x="28.6" y="481" transform="matrix(1 0 0 1.12 0 -57.72)" font-size="6.8" text-anchor="end" fill="#222">0</text>
<path d="M28.3 497.7H30.8" stroke="#222" stroke-width="0.8"/>
<text stroke="#222" stroke-width="0.1" x="28.6" y="500.1" transform="matrix(1 0 0 1.12 0 -60.01)" font-size="6.8" text-anchor="end" fill="#222">-2</text>
<path d="M37.8 507.3V509.3" stroke="#222" stroke-width="0.8"/>
<path d="M52.7 507.3V509.3" stroke="#222" stroke-width="0.8"/>
<path d="M67.3 507.3V509.3" stroke="#222" stroke-width="0.8"/>
<path d="M81.8 507.3V509.3" stroke="#222" stroke-width="0.8"/>
<path d="M96.5 507.3V509.3" stroke="#222" stroke-width="0.8"/>
<path d="M111 507.3V509.3" stroke="#222" stroke-width="0.8"/>
<path d="M126 507.3V509.3" stroke="#222" stroke-width="0.8"/>
<path d="M140.6 507.3V509.3" stroke="#222" stroke-width="0.8"/>
<text stroke="#111" stroke-width="0.1" transform="translate(10.1,463.1) rotate(-90)" font-size="7.5" font-weight="bold" text-anchor="middle" fill="#111">MLK1</text>
<text stroke="#111" stroke-width="0.1" transform="translate(20.2,463.4) rotate(-90)" font-size="8.05" font-weight="bold" text-anchor="middle" fill="#111">Normalized intensity</text>
<text stroke="#222" stroke-width="0.1" x="37.8" y="515.8" transform="matrix(1 0 0 1.12 0 -61.90)" font-size="7" font-weight="bold" text-anchor="middle" fill="#222">N</text>
<text stroke="#222" stroke-width="0.1" x="52.7" y="515.8" transform="matrix(1 0 0 1.12 0 -61.90)" font-size="7" font-weight="bold" text-anchor="middle" fill="#222">T</text>
<text stroke="#222" stroke-width="0.1" x="81.8" y="515.8" transform="matrix(1 0 0 1.12 0 -61.90)" font-size="7" font-weight="bold" text-anchor="middle" fill="#222">N</text>
<text stroke="#222" stroke-width="0.1" x="96.5" y="515.8" transform="matrix(1 0 0 1.12 0 -61.90)" font-size="7" font-weight="bold" text-anchor="middle" fill="#222">T</text>
<text stroke="#222" stroke-width="0.1" x="126" y="515.8" transform="matrix(1 0 0 1.12 0 -61.90)" font-size="7" font-weight="bold" text-anchor="middle" fill="#222">N</text>
<text stroke="#222" stroke-width="0.1" x="140.6" y="515.8" transform="matrix(1 0 0 1.12 0 -61.90)" font-size="7" font-weight="bold" text-anchor="middle" fill="#222">T</text>
<text stroke="#222" stroke-width="0.1" x="67.3" y="515.5" transform="matrix(1 0 0 1.12 0 -61.86)" font-size="7" text-anchor="middle" fill="#222">-</text>
<text stroke="#222" stroke-width="0.1" x="111" y="515.5" transform="matrix(1 0 0 1.12 0 -61.86)" font-size="7" text-anchor="middle" fill="#222">-</text>
<text stroke="#222" stroke-width="0.1" x="37.8" y="522.6" transform="matrix(1 0 0 1.12 0 -62.71)" font-size="6.8" text-anchor="middle" fill="#222">20</text>
<text stroke="#222" stroke-width="0.1" x="52.7" y="522.6" transform="matrix(1 0 0 1.12 0 -62.71)" font-size="6.8" text-anchor="middle" fill="#222">69</text>
<text stroke="#222" stroke-width="0.1" x="81.8" y="522.6" transform="matrix(1 0 0 1.12 0 -62.71)" font-size="6.8" text-anchor="middle" fill="#222">28</text>
<text stroke="#222" stroke-width="0.1" x="96.5" y="522.6" transform="matrix(1 0 0 1.12 0 -62.71)" font-size="6.8" text-anchor="middle" fill="#222">94</text>
<text stroke="#222" stroke-width="0.1" x="126" y="522.6" transform="matrix(1 0 0 1.12 0 -62.71)" font-size="6.8" text-anchor="middle" fill="#222">8</text>
<text stroke="#222" stroke-width="0.1" x="140.6" y="522.6" transform="matrix(1 0 0 1.12 0 -62.71)" font-size="6.8" text-anchor="middle" fill="#222">13</text>
<text stroke="#222" stroke-width="0.1" x="3.7" y="522.6" transform="matrix(1 0 0 1.12 0 -62.71)" font-size="6.5" fill="#222">patients</text>
<text stroke="#222" stroke-width="0.1" x="35.7" y="425.6" transform="matrix(1 0 0 1.12 0 -51.07)" font-size="6.4" fill="#222">Wallace</text>
<text stroke="#222" stroke-width="0.1" x="80" y="424.3" transform="matrix(1 0 0 1.12 0 -50.92)" font-size="6.45" fill="#222">Grasso</text>
<text stroke="#222" stroke-width="0.1" x="120.5" y="450" transform="matrix(1 0 0 1.12 0 -54.00)" font-size="6.35" fill="#222">Arredouani</text>
<text stroke="#222" stroke-width="0.1" x="45.5" y="435.2" transform="matrix(1 0 0 1.12 0 -52.22)" font-size="7" text-anchor="middle" fill="#222">***</text>
<text stroke="#222" stroke-width="0.1" x="89.6" y="431.3" transform="matrix(1 0 0 1.12 0 -51.76)" font-size="7" text-anchor="middle" fill="#222">***</text>
<text stroke="#222" stroke-width="0.1" x="133.3" y="459.5" transform="matrix(1 0 0 1.12 0 -55.14)" font-size="7" text-anchor="middle" fill="#222">*</text>
<path d="M38.7 455.2V436.3H52.4V443" fill="none" stroke="#444" stroke-width="0.9"/>
<path d="M82.7 451.6V433.2H96.5V438.7" fill="none" stroke="#444" stroke-width="0.9"/>
<path d="M126.2 465.2V459.5H140.8V465.2" fill="none" stroke="#444" stroke-width="0.9"/>
<path d="M35 476.7H41" stroke="#999" stroke-width="0.7"/>
<path d="M38.0 466.3h0M38.0 468.9h0M38.0 474.1h0M35.3 479.3h0M38.0 479.3h0M40.7 479.3h0M36.6 481.9h0M39.4 481.9h0M34.0 484.5h0M36.6 484.5h0M39.4 484.5h0M42.0 484.5h0M35.3 487.1h0M38.0 487.1h0M40.7 487.1h0M36.6 489.7h0M39.4 489.7h0M38.0 492.3h0M36.6 497.5h0M39.4 497.5h0" stroke="#111" stroke-width="2.4" stroke-linecap="round" fill="none"/>
<path d="M52.5 447.2h0M51.2 455.6h0M53.8 455.6h0M51.2 459.9h0M53.8 459.9h0M51.2 464.1h0M53.8 464.1h0M50.0 489.2h0M52.5 489.2h0M55.0 489.2h0M47.7 487.1h0M49.6 487.1h0M51.5 487.1h0M53.5 487.1h0M55.4 487.1h0M57.3 487.1h0M47.7 485.1h0M50.1 485.1h0M52.5 485.1h0M54.9 485.1h0M57.3 485.1h0M48.8 482.9h0M51.2 482.9h0M53.8 482.9h0M56.2 482.9h0M47.7 480.9h0M49.6 480.9h0M51.5 480.9h0M53.5 480.9h0M55.4 480.9h0M57.3 480.9h0M47.7 478.8h0M50.1 478.8h0M52.5 478.8h0M54.9 478.8h0M57.3 478.8h0M47.7 476.6h0M49.6 476.6h0M51.5 476.6h0M53.5 476.6h0M55.4 476.6h0M57.3 476.6h0M48.8 474.6h0M51.2 474.6h0M53.8 474.6h0M56.2 474.6h0M47.7 472.4h0M49.6 472.4h0M51.5 472.4h0M53.5 472.4h0M55.4 472.4h0M57.3 472.4h0M48.8 470.4h0M51.2 470.4h0M53.8 470.4h0M56.2 470.4h0M47.7 468.2h0M49.3 468.2h0M50.9 468.2h0M52.5 468.2h0M54.1 468.2h0M55.7 468.2h0M57.3 468.2h0M50.0 466.1h0M52.5 466.1h0M55.0 466.1h0M52.5 491.4h0M52.5 493.4h0M52.5 495.6h0" stroke="#111" stroke-width="2.4" stroke-linecap="round" fill="none"/>
<g fill="none" stroke="#111" stroke-width="0.75"><circle cx="78.3" cy="476.3" r="1.25"/><circle cx="79.4" cy="476.3" r="1.25"/><circle cx="80.6" cy="476.3" r="1.25"/><circle cx="81.7" cy="476.3" r="1.25"/><circle cx="82.9" cy="476.3" r="1.25"/><circle cx="84.0" cy="476.3" r="1.25"/><circle cx="85.2" cy="476.3" r="1.25"/><circle cx="86.3" cy="476.3" r="1.25"/><circle cx="78.5" cy="472.1" r="1.25"/><circle cx="80.4" cy="472.1" r="1.25"/><circle cx="82.3" cy="472.1" r="1.25"/><circle cx="84.2" cy="472.1" r="1.25"/><circle cx="86.1" cy="472.1" r="1.25"/><circle cx="82.3" cy="480.5" r="1.25"/><circle cx="79.5" cy="479.1" r="1.25"/><circle cx="81.3" cy="479.1" r="1.25"/><circle cx="83.2" cy="479.1" r="1.25"/><circle cx="85.1" cy="479.1" r="1.25"/><circle cx="79.5" cy="473.5" r="1.25"/><circle cx="81.3" cy="473.5" r="1.25"/><circle cx="83.2" cy="473.5" r="1.25"/><circle cx="85.1" cy="473.5" r="1.25"/><circle cx="82.3" cy="481.9" r="1.25"/><circle cx="80.4" cy="477.7" r="1.25"/><circle cx="82.3" cy="477.7" r="1.25"/><circle cx="84.2" cy="477.7" r="1.25"/><circle cx="82.3" cy="474.9" r="1.25"/><circle cx="82.3" cy="469" r="1.25"/></g>
<g fill="none" stroke="#111" stroke-width="0.75"><circle cx="94.5" cy="463.8" r="1.25"/><circle cx="96.6" cy="463.8" r="1.25"/><circle cx="98.7" cy="463.8" r="1.25"/><circle cx="93.4" cy="460.8" r="1.25"/><circle cx="95.5" cy="460.8" r="1.25"/><circle cx="97.6" cy="460.8" r="1.25"/><circle cx="99.8" cy="460.8" r="1.25"/><circle cx="95.5" cy="459.2" r="1.25"/><circle cx="97.6" cy="459.2" r="1.25"/><circle cx="92.4" cy="462.2" r="1.25"/><circle cx="94.5" cy="462.2" r="1.25"/><circle cx="96.6" cy="462.2" r="1.25"/><circle cx="98.7" cy="462.2" r="1.25"/><circle cx="100.8" cy="462.2" r="1.25"/><circle cx="94.5" cy="457.8" r="1.25"/><circle cx="96.6" cy="457.8" r="1.25"/><circle cx="98.7" cy="457.8" r="1.25"/><circle cx="95.5" cy="454.8" r="1.25"/><circle cx="97.6" cy="454.8" r="1.25"/><circle cx="94.5" cy="465.2" r="1.25"/><circle cx="96.6" cy="465.2" r="1.25"/><circle cx="98.7" cy="465.2" r="1.25"/><circle cx="92.4" cy="481.8" r="1.25"/><circle cx="94.5" cy="481.8" r="1.25"/><circle cx="96.6" cy="481.8" r="1.25"/><circle cx="98.7" cy="481.8" r="1.25"/><circle cx="100.8" cy="481.8" r="1.25"/><circle cx="91.8" cy="471.2" r="1.25"/><circle cx="93.2" cy="471.2" r="1.25"/><circle cx="94.5" cy="471.2" r="1.25"/><circle cx="95.9" cy="471.2" r="1.25"/><circle cx="97.3" cy="471.2" r="1.25"/><circle cx="98.7" cy="471.2" r="1.25"/><circle cx="100.0" cy="471.2" r="1.25"/><circle cx="101.4" cy="471.2" r="1.25"/><circle cx="91.8" cy="474.2" r="1.25"/><circle cx="93.0" cy="474.2" r="1.25"/><circle cx="94.2" cy="474.2" r="1.25"/><circle cx="95.4" cy="474.2" r="1.25"/><circle cx="96.6" cy="474.2" r="1.25"/><circle cx="97.8" cy="474.2" r="1.25"/><circle cx="99.0" cy="474.2" r="1.25"/><circle cx="100.2" cy="474.2" r="1.25"/><circle cx="101.4" cy="474.2" r="1.25"/><circle cx="91.8" cy="472.8" r="1.25"/><circle cx="93.0" cy="472.8" r="1.25"/><circle cx="94.2" cy="472.8" r="1.25"/><circle cx="95.4" cy="472.8" r="1.25"/><circle cx="96.6" cy="472.8" r="1.25"/><circle cx="97.8" cy="472.8" r="1.25"/><circle cx="99.0" cy="472.8" r="1.25"/><circle cx="100.2" cy="472.8" r="1.25"/><circle cx="101.4" cy="472.8" r="1.25"/><circle cx="93.4" cy="477.2" r="1.25"/><circle cx="95.5" cy="477.2" r="1.25"/><circle cx="97.6" cy="477.2" r="1.25"/><circle cx="99.8" cy="477.2" r="1.25"/><circle cx="91.8" cy="468.2" r="1.25"/><circle cx="93.4" cy="468.2" r="1.25"/><circle cx="95.0" cy="468.2" r="1.25"/><circle cx="96.6" cy="468.2" r="1.25"/><circle cx="98.2" cy="468.2" r="1.25"/><circle cx="99.8" cy="468.2" r="1.25"/><circle cx="101.4" cy="468.2" r="1.25"/><circle cx="91.8" cy="469.8" r="1.25"/><circle cx="93.7" cy="469.8" r="1.25"/><circle cx="95.6" cy="469.8" r="1.25"/><circle cx="97.6" cy="469.8" r="1.25"/><circle cx="99.5" cy="469.8" r="1.25"/><circle cx="101.4" cy="469.8" r="1.25"/><circle cx="95.5" cy="483.2" r="1.25"/><circle cx="97.6" cy="483.2" r="1.25"/><circle cx="94.5" cy="466.8" r="1.25"/><circle cx="96.6" cy="466.8" r="1.25"/><circle cx="98.7" cy="466.8" r="1.25"/><circle cx="93.4" cy="478.8" r="1.25"/><circle cx="95.5" cy="478.8" r="1.25"/><circle cx="97.6" cy="478.8" r="1.25"/><circle cx="99.8" cy="478.8" r="1.25"/><circle cx="91.8" cy="475.8" r="1.25"/><circle cx="93.7" cy="475.8" r="1.25"/><circle cx="95.6" cy="475.8" r="1.25"/><circle cx="97.6" cy="475.8" r="1.25"/><circle cx="99.5" cy="475.8" r="1.25"/><circle cx="101.4" cy="475.8" r="1.25"/><circle cx="96.6" cy="480.2" r="1.25"/><circle cx="96.5" cy="444.0" r="1.25"/><circle cx="93.4" cy="446.3" r="1.25"/><circle cx="97.6" cy="449.4" r="1.25"/><circle cx="101.4" cy="449.6" r="1.25"/><circle cx="93.5" cy="452.8" r="1.25"/><circle cx="96.2" cy="453.4" r="1.25"/><circle cx="99.2" cy="452.4" r="1.25"/><circle cx="101.2" cy="454.2" r="1.25"/></g>
<path d="M121.4 479.4H131" stroke="#999" stroke-width="0.7"/>
<path d="M126.2 472.3h0M124.0 476.0h0M128.4 476.0h0M126.2 477.6h0M122.3 481.6h0M126.2 481.6h0M130.1 481.6h0M124.2 483.2h0M128.2 483.2h0M126.2 485.0h0" stroke="#111" stroke-width="2.1" stroke-linecap="round" fill="none"/>
<path d="M135.2 475.2H145.6" stroke="#999" stroke-width="0.7"/>
<path d="M137.0 472.3h0M143.8 472.3h0M138.9 473.9h0M141.9 473.9h0M140.4 475.6h0M137.8 477.4h0M143.0 477.4h0M139.4 478.6h0M141.4 478.6h0M140.4 480.4h0M136.0 475.3h0M144.8 475.3h0M140.4 476.8h0" stroke="#111" stroke-width="2.1" stroke-linecap="round" fill="none"/>
<path d="M214.3 423V501.7H311.2" fill="none" stroke="#222" stroke-width="0.9"/>
<path d="M212 430.3H214.3" stroke="#222" stroke-width="0.8"/>
<text stroke="#222" stroke-width="0.1" x="212.2" y="432.8" transform="matrix(1 0 0 1.12 0 -51.94)" font-size="7" font-weight="bold" text-anchor="end" fill="#222">100</text>
<path d="M212 466H214.3" stroke="#222" stroke-width="0.8"/>
<text stroke="#222" stroke-width="0.1" x="212.2" y="468.5" transform="matrix(1 0 0 1.12 0 -56.22)" font-size="7" font-weight="bold" text-anchor="end" fill="#222">50</text>
<path d="M212 501.7H214.3" stroke="#222" stroke-width="0.8"/>
<text stroke="#222" stroke-width="0.1" x="212.2" y="504.2" transform="matrix(1 0 0 1.12 0 -60.50)" font-size="7" font-weight="bold" text-anchor="end" fill="#222">0</text>
<path d="M214.3 501.7V503.8" stroke="#222" stroke-width="0.8"/>
<text stroke="#222" stroke-width="0.1" x="214.3" y="511.6" transform="matrix(1 0 0 1.12 0 -61.39)" font-size="7.7" text-anchor="middle" fill="#222">0</text>
<path d="M246.6 501.7V503.8" stroke="#222" stroke-width="0.8"/>
<text stroke="#222" stroke-width="0.1" x="246.6" y="511.6" transform="matrix(1 0 0 1.12 0 -61.39)" font-size="7.7" text-anchor="middle" fill="#222">2000</text>
<path d="M278.9 501.7V503.8" stroke="#222" stroke-width="0.8"/>
<text stroke="#222" stroke-width="0.1" x="278.9" y="511.6" transform="matrix(1 0 0 1.12 0 -61.39)" font-size="7.7" text-anchor="middle" fill="#222">4000</text>
<path d="M311.2 501.7V503.8" stroke="#222" stroke-width="0.8"/>
<text stroke="#222" stroke-width="0.1" x="311.2" y="511.6" transform="matrix(1 0 0 1.12 0 -61.39)" font-size="7.7" text-anchor="middle" fill="#222">6000</text>
<text stroke="#222" stroke-width="0.1" x="240.6" y="522.2" transform="matrix(1 0 0 1.12 0 -62.66)" font-size="7.1" fill="#222">Days elapsed</text>
<text stroke="#222" stroke-width="0.1" transform="translate(199.4,467.3) rotate(-90)" font-size="8.56" text-anchor="middle" fill="#222">Percent survival</text>
<path d="M214.3 429.8H243.3V430.9H253.5V433.9H270.8V447.4H295.6" fill="none" stroke="#2828f0" stroke-width="1.15"/>
<path d="M257.5 432.9V434.9" stroke="#2828f0" stroke-width="0.6"/>
<path d="M261 432.9V434.9" stroke="#2828f0" stroke-width="0.6"/>
<path d="M265.3 432.9V434.9" stroke="#2828f0" stroke-width="0.6"/>
<path d="M274 445.6V447.4" stroke="#2828f0" stroke-width="0.7"/>
<path d="M283.4 445.6V447.4" stroke="#2828f0" stroke-width="0.7"/>
<path d="M214.3 429.5H225.8V431H228V432H233V433.5H236V434.7H270.8V467.8H273.4V466.3" fill="none" stroke="#f02020" stroke-width="1.1"/>
<text stroke="#222" stroke-width="0.1" x="221.7" y="469" transform="matrix(1 0 0 1.12 0 -56.28)" font-size="6.8" fill="#222">N=494</text>
<text stroke="#222" stroke-width="0.1" x="221.7" y="479.2" transform="matrix(1 0 0 1.12 0 -57.50)" font-size="6.8" fill="#222">average= 0.9 FPKM</text>
<text stroke="#222" stroke-width="0.1" x="221.7" y="487.4" transform="matrix(1 0 0 1.12 0 -58.49)" font-size="6.8" fill="#222">cut off: 1.22 FPKM</text>
<text stroke="#222" stroke-width="0.1" x="221.7" y="496.1" transform="matrix(1 0 0 1.12 0 -59.53)" font-size="6.8" fill="#222"><tspan font-style="italic">p</tspan>= 0.0248</text>
<text stroke="#111" stroke-width="0.1" x="269.5" y="424.7" transform="matrix(1 0 0 1.12 0 -50.96)" font-size="6.8" font-weight="bold" fill="#111">MLK1</text>
<path d="M294 422.2H301.4" stroke="#f02020" stroke-width="1"/>
<path d="M294 432H301.4" stroke="#2828f0" stroke-width="1"/>
<text stroke="#222" stroke-width="0.1" x="304.8" y="423.6" transform="matrix(1 0 0 1.12 0 -50.83)" font-size="5.6" fill="#222">high</text>
<text stroke="#222" stroke-width="0.1" x="304.8" y="433.6" transform="matrix(1 0 0 1.12 0 -52.03)" font-size="5.6" fill="#222">low</text>
<text stroke="#222" stroke-width="0.1" x="319.5" y="424" transform="matrix(1 0 0 1.12 0 -50.88)" font-size="6.6" fill="#222">n=112</text>
<text stroke="#222" stroke-width="0.1" x="319.5" y="434" transform="matrix(1 0 0 1.12 0 -52.08)" font-size="6.6" fill="#222">n=382</text>
</svg></body></html>
